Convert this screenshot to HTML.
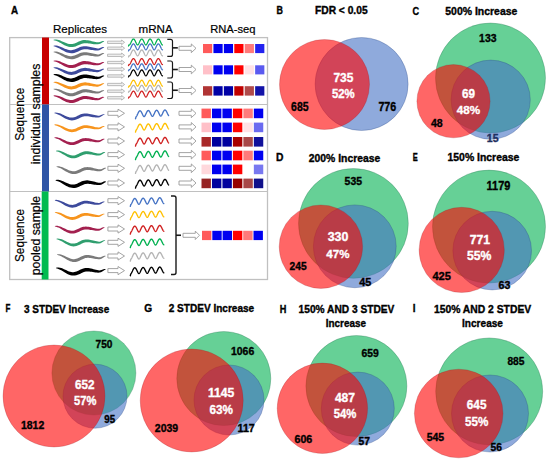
<!DOCTYPE html>
<html><head><meta charset="utf-8"><style>
html,body{margin:0;padding:0;background:#fff;width:550px;height:463px;overflow:hidden}
svg{display:block;font-family:"Liberation Sans",sans-serif}
</style></head><body>
<svg width="550" height="463" viewBox="0 0 550 463">
<rect x="9.7" y="37.6" width="257.8" height="241.9" fill="#fff" stroke="#c0c0c0" stroke-width="1.3"/>
<line x1="9.5" y1="104.5" x2="267.5" y2="104.5" stroke="#c0c0c0" stroke-width="1"/>
<line x1="9.5" y1="191.5" x2="267.5" y2="191.5" stroke="#c0c0c0" stroke-width="1"/>
<rect x="42" y="37.5" width="7" height="67" fill="#c80000"/>
<rect x="42" y="104.5" width="7" height="87" fill="#2f55a6"/>
<rect x="41.7" y="191.5" width="6.8" height="88" fill="#00bb50"/>
<text x="53.00" y="33.00" font-size="11.6" font-weight="normal" fill="#000" stroke="#000" stroke-width="0.2" textLength="53.99" lengthAdjust="spacingAndGlyphs">Replicates</text>
<text x="138.50" y="32.90" font-size="11.6" font-weight="normal" fill="#000" stroke="#000" stroke-width="0.2" textLength="34.23" lengthAdjust="spacingAndGlyphs">mRNA</text>
<text x="210.20" y="32.90" font-size="11.6" font-weight="normal" fill="#000" stroke="#000" stroke-width="0.2" textLength="45.36" lengthAdjust="spacingAndGlyphs">RNA-seq</text>
<text transform="translate(24.30,114.30) rotate(-90)" x="-26.52" y="0" font-size="12" fill="#000" stroke="#000" stroke-width="0.2" textLength="53.04" lengthAdjust="spacingAndGlyphs">Sequence</text>
<text transform="translate(40.00,113.90) rotate(-90)" x="-50.25" y="0" font-size="12" fill="#000" stroke="#000" stroke-width="0.2" textLength="100.51" lengthAdjust="spacingAndGlyphs">individual samples</text>
<text transform="translate(24.30,235.50) rotate(-90)" x="-26.52" y="0" font-size="12" fill="#000" stroke="#000" stroke-width="0.2" textLength="53.04" lengthAdjust="spacingAndGlyphs">Sequence</text>
<text transform="translate(40.00,235.60) rotate(-90)" x="-39.77" y="0" font-size="12" fill="#000" stroke="#000" stroke-width="0.2" textLength="79.55" lengthAdjust="spacingAndGlyphs">pooled sample</text>
<path d="M53.59,40.15 L54.80,40.51 L55.98,40.86 L57.14,41.30 L58.31,41.83 L59.50,42.43 L60.70,43.10 L61.91,43.79 L63.16,44.49 L64.43,45.16 L65.73,45.78 L67.07,46.31 L68.44,46.72 L69.85,47.00 L71.28,47.11 L72.74,47.04 L74.18,46.79 L75.58,46.38 L76.94,45.86 L78.24,45.29 L79.50,44.72 L80.71,44.19 L81.87,43.75 L82.99,43.42 L84.06,43.22 L85.16,43.15 L86.32,43.17 L87.51,43.26 L88.71,43.40 L89.95,43.58 L91.21,43.79 L92.49,43.99 L93.80,44.17 L95.12,44.29 L96.45,44.35 L97.82,44.33 L99.28,44.07 L100.66,43.41 L101.88,42.63 L103.00,41.97 L104.14,41.48 L104.06,40.98 L102.68,40.93 L101.27,41.38 L99.97,41.94 L98.82,42.29 L97.75,42.31 L96.60,42.18 L95.41,41.98 L94.20,41.74 L92.98,41.45 L91.74,41.14 L90.48,40.84 L89.19,40.56 L87.87,40.33 L86.53,40.16 L85.16,40.07 L83.74,40.11 L82.29,40.34 L80.88,40.73 L79.51,41.23 L78.20,41.80 L76.93,42.38 L75.71,42.93 L74.55,43.40 L73.42,43.76 L72.34,43.99 L71.27,44.09 L70.18,44.06 L69.06,43.91 L67.90,43.65 L66.72,43.27 L65.50,42.81 L64.24,42.28 L62.96,41.71 L61.65,41.14 L60.33,40.59 L58.99,40.12 L57.63,39.75 L56.27,39.50 L54.92,39.43 L53.61,39.65Z" fill="#2f9e6e"/>
<path d="M53.59,46.25 L54.80,46.61 L55.98,46.96 L57.14,47.40 L58.31,47.93 L59.50,48.53 L60.70,49.20 L61.91,49.89 L63.16,50.59 L64.43,51.26 L65.73,51.88 L67.07,52.41 L68.44,52.82 L69.85,53.10 L71.28,53.21 L72.74,53.14 L74.18,52.89 L75.58,52.48 L76.94,51.96 L78.24,51.39 L79.50,50.82 L80.71,50.29 L81.87,49.85 L82.99,49.52 L84.06,49.32 L85.16,49.25 L86.32,49.27 L87.51,49.36 L88.71,49.50 L89.95,49.68 L91.21,49.89 L92.49,50.09 L93.80,50.27 L95.12,50.39 L96.45,50.45 L97.82,50.43 L99.28,50.17 L100.66,49.51 L101.88,48.73 L103.00,48.07 L104.14,47.58 L104.06,47.08 L102.68,47.03 L101.27,47.48 L99.97,48.04 L98.82,48.39 L97.75,48.41 L96.60,48.28 L95.41,48.08 L94.20,47.84 L92.98,47.55 L91.74,47.24 L90.48,46.94 L89.19,46.66 L87.87,46.43 L86.53,46.26 L85.16,46.17 L83.74,46.21 L82.29,46.44 L80.88,46.83 L79.51,47.33 L78.20,47.90 L76.93,48.48 L75.71,49.03 L74.55,49.50 L73.42,49.86 L72.34,50.09 L71.27,50.19 L70.18,50.16 L69.06,50.01 L67.90,49.75 L66.72,49.37 L65.50,48.91 L64.24,48.38 L62.96,47.81 L61.65,47.24 L60.33,46.69 L58.99,46.22 L57.63,45.85 L56.27,45.60 L54.92,45.53 L53.61,45.75Z" fill="#3d4a9c"/>
<path d="M53.59,52.25 L54.80,52.61 L55.98,52.96 L57.14,53.40 L58.31,53.93 L59.50,54.53 L60.70,55.20 L61.91,55.89 L63.16,56.59 L64.43,57.26 L65.73,57.88 L67.07,58.41 L68.44,58.82 L69.85,59.10 L71.28,59.21 L72.74,59.14 L74.18,58.89 L75.58,58.48 L76.94,57.96 L78.24,57.39 L79.50,56.82 L80.71,56.29 L81.87,55.85 L82.99,55.52 L84.06,55.32 L85.16,55.25 L86.32,55.27 L87.51,55.36 L88.71,55.50 L89.95,55.68 L91.21,55.89 L92.49,56.09 L93.80,56.27 L95.12,56.39 L96.45,56.45 L97.82,56.43 L99.28,56.17 L100.66,55.51 L101.88,54.73 L103.00,54.07 L104.14,53.58 L104.06,53.08 L102.68,53.03 L101.27,53.48 L99.97,54.04 L98.82,54.39 L97.75,54.41 L96.60,54.28 L95.41,54.08 L94.20,53.84 L92.98,53.55 L91.74,53.24 L90.48,52.94 L89.19,52.66 L87.87,52.43 L86.53,52.26 L85.16,52.17 L83.74,52.21 L82.29,52.44 L80.88,52.83 L79.51,53.33 L78.20,53.90 L76.93,54.48 L75.71,55.03 L74.55,55.50 L73.42,55.86 L72.34,56.09 L71.27,56.19 L70.18,56.16 L69.06,56.01 L67.90,55.75 L66.72,55.37 L65.50,54.91 L64.24,54.38 L62.96,53.81 L61.65,53.24 L60.33,52.69 L58.99,52.22 L57.63,51.85 L56.27,51.60 L54.92,51.53 L53.61,51.75Z" fill="#7a7a7a"/>
<path d="M53.59,61.15 L54.80,61.51 L55.98,61.86 L57.14,62.30 L58.31,62.83 L59.50,63.43 L60.70,64.10 L61.91,64.79 L63.16,65.49 L64.43,66.16 L65.73,66.78 L67.07,67.31 L68.44,67.72 L69.85,68.00 L71.28,68.11 L72.74,68.04 L74.18,67.79 L75.58,67.38 L76.94,66.86 L78.24,66.29 L79.50,65.72 L80.71,65.19 L81.87,64.75 L82.99,64.42 L84.06,64.22 L85.16,64.15 L86.32,64.17 L87.51,64.26 L88.71,64.40 L89.95,64.58 L91.21,64.79 L92.49,64.99 L93.80,65.17 L95.12,65.29 L96.45,65.35 L97.82,65.33 L99.28,65.07 L100.66,64.41 L101.88,63.63 L103.00,62.97 L104.14,62.48 L104.06,61.98 L102.68,61.93 L101.27,62.38 L99.97,62.94 L98.82,63.29 L97.75,63.31 L96.60,63.18 L95.41,62.98 L94.20,62.74 L92.98,62.45 L91.74,62.14 L90.48,61.84 L89.19,61.56 L87.87,61.33 L86.53,61.16 L85.16,61.07 L83.74,61.11 L82.29,61.34 L80.88,61.73 L79.51,62.23 L78.20,62.80 L76.93,63.38 L75.71,63.93 L74.55,64.40 L73.42,64.76 L72.34,64.99 L71.27,65.09 L70.18,65.06 L69.06,64.91 L67.90,64.65 L66.72,64.27 L65.50,63.81 L64.24,63.28 L62.96,62.71 L61.65,62.14 L60.33,61.59 L58.99,61.12 L57.63,60.75 L56.27,60.50 L54.92,60.43 L53.61,60.65Z" fill="#a3204f"/>
<path d="M53.59,67.95 L54.80,68.31 L55.98,68.66 L57.14,69.10 L58.31,69.63 L59.50,70.23 L60.70,70.90 L61.91,71.59 L63.16,72.29 L64.43,72.96 L65.73,73.58 L67.07,74.11 L68.44,74.52 L69.85,74.80 L71.28,74.91 L72.74,74.84 L74.18,74.59 L75.58,74.18 L76.94,73.66 L78.24,73.09 L79.50,72.52 L80.71,71.99 L81.87,71.55 L82.99,71.22 L84.06,71.02 L85.16,70.95 L86.32,70.97 L87.51,71.06 L88.71,71.20 L89.95,71.38 L91.21,71.59 L92.49,71.79 L93.80,71.97 L95.12,72.09 L96.45,72.15 L97.82,72.13 L99.28,71.87 L100.66,71.21 L101.88,70.43 L103.00,69.77 L104.14,69.28 L104.06,68.78 L102.68,68.73 L101.27,69.18 L99.97,69.74 L98.82,70.09 L97.75,70.11 L96.60,69.98 L95.41,69.78 L94.20,69.54 L92.98,69.25 L91.74,68.94 L90.48,68.64 L89.19,68.36 L87.87,68.13 L86.53,67.96 L85.16,67.87 L83.74,67.91 L82.29,68.14 L80.88,68.53 L79.51,69.03 L78.20,69.60 L76.93,70.18 L75.71,70.73 L74.55,71.20 L73.42,71.56 L72.34,71.79 L71.27,71.89 L70.18,71.86 L69.06,71.71 L67.90,71.45 L66.72,71.07 L65.50,70.61 L64.24,70.08 L62.96,69.51 L61.65,68.94 L60.33,68.39 L58.99,67.92 L57.63,67.55 L56.27,67.30 L54.92,67.23 L53.61,67.45Z" fill="#3d4a9c"/>
<path d="M53.59,74.75 L54.79,75.18 L55.96,75.56 L57.11,76.02 L58.26,76.56 L59.43,77.19 L60.61,77.86 L61.82,78.57 L63.06,79.29 L64.33,79.97 L65.64,80.61 L66.99,81.15 L68.39,81.58 L69.82,81.87 L71.28,81.99 L72.77,81.92 L74.25,81.67 L75.68,81.26 L77.05,80.74 L78.37,80.17 L79.62,79.59 L80.82,79.07 L81.97,78.63 L83.05,78.30 L84.09,78.10 L85.16,78.04 L86.30,78.05 L87.47,78.13 L88.67,78.26 L89.90,78.43 L91.16,78.62 L92.45,78.82 L93.76,78.98 L95.09,79.10 L96.43,79.14 L97.83,79.10 L99.31,78.81 L100.71,78.13 L101.92,77.32 L103.02,76.63 L104.14,76.08 L104.06,75.58 L102.66,75.46 L101.23,75.89 L99.92,76.42 L98.79,76.75 L97.75,76.74 L96.62,76.59 L95.43,76.38 L94.24,76.12 L93.03,75.82 L91.79,75.51 L90.52,75.19 L89.23,74.90 L87.90,74.66 L86.55,74.48 L85.16,74.39 L83.71,74.42 L82.22,74.65 L80.78,75.04 L79.40,75.55 L78.08,76.12 L76.81,76.71 L75.60,77.25 L74.45,77.72 L73.35,78.08 L72.30,78.31 L71.27,78.41 L70.21,78.39 L69.11,78.25 L67.98,78.00 L66.81,77.65 L65.59,77.20 L64.34,76.68 L63.05,76.13 L61.74,75.57 L60.40,75.04 L59.04,74.58 L57.67,74.23 L56.29,74.01 L54.93,73.97 L53.61,74.25Z" fill="#000"/>
<path d="M53.59,82.45 L54.80,82.81 L55.98,83.16 L57.14,83.60 L58.31,84.13 L59.50,84.73 L60.70,85.40 L61.91,86.09 L63.16,86.79 L64.43,87.46 L65.73,88.08 L67.07,88.61 L68.44,89.02 L69.85,89.30 L71.28,89.41 L72.74,89.34 L74.18,89.09 L75.58,88.68 L76.94,88.16 L78.24,87.59 L79.50,87.02 L80.71,86.49 L81.87,86.05 L82.99,85.72 L84.06,85.52 L85.16,85.45 L86.32,85.47 L87.51,85.56 L88.71,85.70 L89.95,85.88 L91.21,86.09 L92.49,86.29 L93.80,86.47 L95.12,86.59 L96.45,86.65 L97.82,86.63 L99.28,86.37 L100.66,85.71 L101.88,84.93 L103.00,84.27 L104.14,83.78 L104.06,83.28 L102.68,83.23 L101.27,83.68 L99.97,84.24 L98.82,84.59 L97.75,84.61 L96.60,84.48 L95.41,84.28 L94.20,84.04 L92.98,83.75 L91.74,83.44 L90.48,83.14 L89.19,82.86 L87.87,82.63 L86.53,82.46 L85.16,82.37 L83.74,82.41 L82.29,82.64 L80.88,83.03 L79.51,83.53 L78.20,84.10 L76.93,84.68 L75.71,85.23 L74.55,85.70 L73.42,86.06 L72.34,86.29 L71.27,86.39 L70.18,86.36 L69.06,86.21 L67.90,85.95 L66.72,85.57 L65.50,85.11 L64.24,84.58 L62.96,84.01 L61.65,83.44 L60.33,82.89 L58.99,82.42 L57.63,82.05 L56.27,81.80 L54.92,81.73 L53.61,81.95Z" fill="#f7941d"/>
<path d="M53.59,89.35 L54.80,89.71 L55.98,90.06 L57.14,90.50 L58.31,91.03 L59.50,91.63 L60.70,92.30 L61.91,92.99 L63.16,93.69 L64.43,94.36 L65.73,94.98 L67.07,95.51 L68.44,95.92 L69.85,96.20 L71.28,96.31 L72.74,96.24 L74.18,95.99 L75.58,95.58 L76.94,95.06 L78.24,94.49 L79.50,93.92 L80.71,93.39 L81.87,92.95 L82.99,92.62 L84.06,92.42 L85.16,92.35 L86.32,92.37 L87.51,92.46 L88.71,92.60 L89.95,92.78 L91.21,92.99 L92.49,93.19 L93.80,93.37 L95.12,93.49 L96.45,93.55 L97.82,93.53 L99.28,93.27 L100.66,92.61 L101.88,91.83 L103.00,91.17 L104.14,90.68 L104.06,90.18 L102.68,90.13 L101.27,90.58 L99.97,91.14 L98.82,91.49 L97.75,91.51 L96.60,91.38 L95.41,91.18 L94.20,90.94 L92.98,90.65 L91.74,90.34 L90.48,90.04 L89.19,89.76 L87.87,89.53 L86.53,89.36 L85.16,89.27 L83.74,89.31 L82.29,89.54 L80.88,89.93 L79.51,90.43 L78.20,91.00 L76.93,91.58 L75.71,92.13 L74.55,92.60 L73.42,92.96 L72.34,93.19 L71.27,93.29 L70.18,93.26 L69.06,93.11 L67.90,92.85 L66.72,92.47 L65.50,92.01 L64.24,91.48 L62.96,90.91 L61.65,90.34 L60.33,89.79 L58.99,89.32 L57.63,88.95 L56.27,88.70 L54.92,88.63 L53.61,88.85Z" fill="#7a7a7a"/>
<path d="M53.59,96.05 L54.80,96.41 L55.98,96.76 L57.14,97.20 L58.31,97.73 L59.50,98.33 L60.70,99.00 L61.91,99.69 L63.16,100.39 L64.43,101.06 L65.73,101.68 L67.07,102.21 L68.44,102.62 L69.85,102.90 L71.28,103.01 L72.74,102.94 L74.18,102.69 L75.58,102.28 L76.94,101.76 L78.24,101.19 L79.50,100.62 L80.71,100.09 L81.87,99.65 L82.99,99.32 L84.06,99.12 L85.16,99.05 L86.32,99.07 L87.51,99.16 L88.71,99.30 L89.95,99.48 L91.21,99.69 L92.49,99.89 L93.80,100.07 L95.12,100.19 L96.45,100.25 L97.82,100.23 L99.28,99.97 L100.66,99.31 L101.88,98.53 L103.00,97.87 L104.14,97.38 L104.06,96.88 L102.68,96.83 L101.27,97.28 L99.97,97.84 L98.82,98.19 L97.75,98.21 L96.60,98.08 L95.41,97.88 L94.20,97.64 L92.98,97.35 L91.74,97.04 L90.48,96.74 L89.19,96.46 L87.87,96.23 L86.53,96.06 L85.16,95.97 L83.74,96.01 L82.29,96.24 L80.88,96.63 L79.51,97.13 L78.20,97.70 L76.93,98.28 L75.71,98.83 L74.55,99.30 L73.42,99.66 L72.34,99.89 L71.27,99.99 L70.18,99.96 L69.06,99.81 L67.90,99.55 L66.72,99.17 L65.50,98.71 L64.24,98.18 L62.96,97.61 L61.65,97.04 L60.33,96.49 L58.99,96.02 L57.63,95.65 L56.27,95.40 L54.92,95.33 L53.61,95.55Z" fill="#a3204f"/>
<path d="M54.39,113.25 L55.59,113.59 L56.76,113.93 L57.92,114.38 L59.08,114.92 L60.26,115.54 L61.45,116.23 L62.66,116.95 L63.89,117.68 L65.15,118.38 L66.45,119.02 L67.77,119.57 L69.13,120.00 L70.52,120.28 L71.94,120.39 L73.38,120.32 L74.81,120.05 L76.20,119.61 L77.54,119.07 L78.83,118.47 L80.08,117.87 L81.28,117.31 L82.44,116.84 L83.55,116.50 L84.62,116.29 L85.71,116.22 L86.86,116.25 L88.04,116.34 L89.24,116.50 L90.46,116.70 L91.71,116.92 L92.99,117.14 L94.28,117.33 L95.59,117.48 L96.91,117.55 L98.27,117.54 L99.71,117.28 L101.08,116.60 L102.29,115.80 L103.41,115.12 L104.54,114.65 L104.46,114.15 L103.09,114.14 L101.70,114.64 L100.41,115.24 L99.27,115.63 L98.20,115.66 L97.06,115.53 L95.87,115.34 L94.68,115.09 L93.47,114.80 L92.24,114.48 L90.98,114.17 L89.70,113.88 L88.40,113.64 L87.07,113.47 L85.71,113.38 L84.30,113.43 L82.87,113.67 L81.47,114.08 L80.12,114.60 L78.82,115.20 L77.56,115.81 L76.35,116.39 L75.19,116.88 L74.07,117.26 L72.99,117.51 L71.93,117.61 L70.84,117.57 L69.73,117.41 L68.58,117.12 L67.40,116.72 L66.19,116.22 L64.95,115.66 L63.68,115.05 L62.38,114.43 L61.07,113.85 L59.74,113.34 L58.40,112.93 L57.05,112.66 L55.71,112.56 L54.41,112.75Z" fill="#3d4a9c"/>
<path d="M54.39,125.05 L55.59,125.39 L56.76,125.73 L57.92,126.18 L59.08,126.72 L60.26,127.34 L61.45,128.03 L62.66,128.75 L63.89,129.48 L65.15,130.18 L66.45,130.82 L67.77,131.37 L69.13,131.80 L70.52,132.08 L71.94,132.19 L73.38,132.12 L74.81,131.85 L76.20,131.41 L77.54,130.87 L78.83,130.27 L80.08,129.67 L81.28,129.11 L82.44,128.64 L83.55,128.30 L84.62,128.09 L85.71,128.02 L86.86,128.05 L88.04,128.14 L89.24,128.30 L90.46,128.50 L91.71,128.72 L92.99,128.94 L94.28,129.13 L95.59,129.28 L96.91,129.35 L98.27,129.34 L99.71,129.08 L101.08,128.40 L102.29,127.60 L103.41,126.92 L104.54,126.45 L104.46,125.95 L103.09,125.94 L101.70,126.44 L100.41,127.04 L99.27,127.43 L98.20,127.46 L97.06,127.33 L95.87,127.14 L94.68,126.89 L93.47,126.60 L92.24,126.28 L90.98,125.97 L89.70,125.68 L88.40,125.44 L87.07,125.27 L85.71,125.18 L84.30,125.23 L82.87,125.47 L81.47,125.88 L80.12,126.40 L78.82,127.00 L77.56,127.61 L76.35,128.19 L75.19,128.68 L74.07,129.06 L72.99,129.31 L71.93,129.41 L70.84,129.37 L69.73,129.21 L68.58,128.92 L67.40,128.52 L66.19,128.02 L64.95,127.46 L63.68,126.85 L62.38,126.23 L61.07,125.65 L59.74,125.14 L58.40,124.73 L57.05,124.46 L55.71,124.36 L54.41,124.55Z" fill="#f7941d"/>
<path d="M54.39,137.95 L55.59,138.29 L56.76,138.63 L57.92,139.08 L59.08,139.62 L60.26,140.24 L61.45,140.93 L62.66,141.65 L63.89,142.38 L65.15,143.08 L66.45,143.72 L67.77,144.27 L69.13,144.70 L70.52,144.98 L71.94,145.09 L73.38,145.02 L74.81,144.75 L76.20,144.31 L77.54,143.77 L78.83,143.17 L80.08,142.57 L81.28,142.01 L82.44,141.54 L83.55,141.20 L84.62,140.99 L85.71,140.92 L86.86,140.95 L88.04,141.04 L89.24,141.20 L90.46,141.40 L91.71,141.62 L92.99,141.84 L94.28,142.03 L95.59,142.18 L96.91,142.25 L98.27,142.24 L99.71,141.98 L101.08,141.30 L102.29,140.50 L103.41,139.82 L104.54,139.35 L104.46,138.85 L103.09,138.84 L101.70,139.34 L100.41,139.94 L99.27,140.33 L98.20,140.36 L97.06,140.23 L95.87,140.04 L94.68,139.79 L93.47,139.50 L92.24,139.18 L90.98,138.87 L89.70,138.58 L88.40,138.34 L87.07,138.17 L85.71,138.08 L84.30,138.13 L82.87,138.37 L81.47,138.78 L80.12,139.30 L78.82,139.90 L77.56,140.51 L76.35,141.09 L75.19,141.58 L74.07,141.96 L72.99,142.21 L71.93,142.31 L70.84,142.27 L69.73,142.11 L68.58,141.82 L67.40,141.42 L66.19,140.92 L64.95,140.36 L63.68,139.75 L62.38,139.13 L61.07,138.55 L59.74,138.04 L58.40,137.63 L57.05,137.36 L55.71,137.26 L54.41,137.45Z" fill="#a3204f"/>
<path d="M55.98,151.15 L57.17,151.49 L58.31,151.83 L59.44,152.28 L60.58,152.82 L61.72,153.44 L62.89,154.13 L64.08,154.85 L65.29,155.58 L66.52,156.28 L67.79,156.92 L69.09,157.47 L70.42,157.90 L71.79,158.18 L73.19,158.29 L74.61,158.22 L76.01,157.94 L77.38,157.51 L78.70,156.97 L79.97,156.37 L81.19,155.76 L82.37,155.21 L83.50,154.74 L84.58,154.39 L85.62,154.19 L86.69,154.12 L87.81,154.15 L88.96,154.24 L90.14,154.40 L91.33,154.59 L92.56,154.82 L93.81,155.04 L95.08,155.23 L96.36,155.38 L97.66,155.45 L99.00,155.44 L100.42,155.18 L101.76,154.50 L102.95,153.69 L104.04,153.02 L105.15,152.55 L105.05,152.05 L103.71,152.04 L102.34,152.54 L101.07,153.14 L99.96,153.53 L98.93,153.56 L97.81,153.43 L96.65,153.24 L95.48,152.99 L94.30,152.70 L93.09,152.38 L91.86,152.07 L90.60,151.78 L89.32,151.54 L88.02,151.37 L86.69,151.28 L85.30,151.33 L83.89,151.57 L82.51,151.98 L81.19,152.51 L79.91,153.11 L78.68,153.72 L77.49,154.30 L76.36,154.79 L75.27,155.17 L74.21,155.41 L73.18,155.51 L72.12,155.47 L71.04,155.31 L69.92,155.02 L68.76,154.62 L67.57,154.13 L66.35,153.56 L65.11,152.95 L63.84,152.34 L62.55,151.76 L61.24,151.24 L59.93,150.83 L58.60,150.56 L57.29,150.46 L56.02,150.65Z" fill="#2f9e6e"/>
<path d="M56.48,166.95 L57.68,167.29 L58.83,167.63 L59.97,168.08 L61.12,168.62 L62.28,169.24 L63.45,169.93 L64.65,170.65 L65.87,171.38 L67.11,172.08 L68.39,172.72 L69.70,173.27 L71.05,173.70 L72.43,173.98 L73.83,174.09 L75.26,174.02 L76.67,173.74 L78.05,173.31 L79.37,172.77 L80.65,172.17 L81.89,171.57 L83.07,171.01 L84.21,170.54 L85.31,170.19 L86.36,169.99 L87.44,169.92 L88.57,169.95 L89.73,170.04 L90.92,170.20 L92.13,170.39 L93.36,170.62 L94.62,170.84 L95.90,171.03 L97.19,171.18 L98.50,171.25 L99.85,171.24 L101.28,170.98 L102.63,170.30 L103.83,169.49 L104.92,168.82 L106.05,168.35 L105.95,167.85 L104.60,167.84 L103.22,168.34 L101.95,168.94 L100.82,169.33 L99.78,169.36 L98.65,169.23 L97.48,169.04 L96.30,168.79 L95.10,168.50 L93.89,168.18 L92.65,167.87 L91.38,167.58 L90.09,167.34 L88.78,167.17 L87.44,167.08 L86.04,167.13 L84.62,167.37 L83.24,167.78 L81.90,168.31 L80.61,168.91 L79.37,169.52 L78.18,170.09 L77.03,170.59 L75.93,170.96 L74.87,171.21 L73.82,171.31 L72.75,171.27 L71.65,171.11 L70.52,170.82 L69.36,170.42 L68.16,169.93 L66.93,169.36 L65.68,168.75 L64.40,168.14 L63.10,167.55 L61.78,167.04 L60.46,166.63 L59.12,166.36 L57.80,166.26 L56.52,166.45Z" fill="#7a7a7a"/>
<path d="M55.59,180.55 L56.79,180.96 L57.95,181.34 L59.10,181.81 L60.25,182.37 L61.42,183.01 L62.60,183.71 L63.81,184.45 L65.05,185.19 L66.32,185.91 L67.62,186.56 L68.97,187.13 L70.36,187.58 L71.79,187.87 L73.25,188.00 L74.73,187.92 L76.21,187.65 L77.63,187.22 L79.00,186.67 L80.31,186.07 L81.57,185.46 L82.77,184.91 L83.91,184.45 L84.99,184.11 L86.03,183.90 L87.10,183.83 L88.23,183.85 L89.40,183.94 L90.60,184.08 L91.83,184.27 L93.09,184.48 L94.37,184.69 L95.68,184.87 L97.01,185.00 L98.35,185.05 L99.74,185.02 L101.22,184.73 L102.62,184.03 L103.83,183.19 L104.92,182.49 L106.04,181.95 L105.96,181.45 L104.56,181.37 L103.13,181.84 L101.82,182.42 L100.70,182.77 L99.66,182.78 L98.53,182.63 L97.35,182.42 L96.16,182.16 L94.95,181.85 L93.71,181.52 L92.45,181.20 L91.16,180.90 L89.84,180.65 L88.49,180.47 L87.10,180.37 L85.65,180.41 L84.17,180.66 L82.73,181.07 L81.35,181.60 L80.03,182.21 L78.77,182.82 L77.56,183.39 L76.41,183.88 L75.31,184.26 L74.27,184.50 L73.23,184.60 L72.17,184.58 L71.08,184.43 L69.95,184.16 L68.78,183.78 L67.56,183.30 L66.31,182.74 L65.03,182.15 L63.72,181.55 L62.38,180.99 L61.03,180.49 L59.66,180.10 L58.29,179.86 L56.93,179.79 L55.61,180.05Z" fill="#000"/>
<path d="M54.88,200.55 L56.08,200.89 L57.23,201.23 L58.38,201.68 L59.53,202.22 L60.69,202.84 L61.87,203.53 L63.07,204.25 L64.29,204.98 L65.54,205.68 L66.82,206.32 L68.13,206.87 L69.48,207.30 L70.86,207.58 L72.27,207.69 L73.70,207.62 L75.11,207.34 L76.49,206.91 L77.82,206.37 L79.10,205.77 L80.34,205.17 L81.53,204.61 L82.67,204.14 L83.76,203.79 L84.82,203.59 L85.90,203.52 L87.03,203.55 L88.20,203.64 L89.39,203.80 L90.60,204.00 L91.84,204.22 L93.10,204.44 L94.38,204.63 L95.68,204.78 L96.98,204.85 L98.33,204.84 L99.77,204.58 L101.12,203.90 L102.32,203.09 L103.42,202.42 L104.55,201.95 L104.45,201.45 L103.10,201.44 L101.72,201.94 L100.44,202.54 L99.31,202.93 L98.27,202.96 L97.14,202.83 L95.96,202.64 L94.78,202.39 L93.58,202.10 L92.36,201.78 L91.12,201.47 L89.85,201.18 L88.56,200.94 L87.25,200.77 L85.90,200.68 L84.50,200.73 L83.08,200.97 L81.69,201.38 L80.35,201.91 L79.06,202.50 L77.82,203.12 L76.62,203.69 L75.47,204.19 L74.37,204.56 L73.30,204.81 L72.25,204.91 L71.18,204.87 L70.08,204.71 L68.95,204.42 L67.78,204.02 L66.58,203.53 L65.35,202.96 L64.09,202.35 L62.81,201.74 L61.51,201.15 L60.19,200.64 L58.86,200.23 L57.53,199.96 L56.20,199.86 L54.92,200.05Z" fill="#3d4a9c"/>
<path d="M54.88,212.75 L56.08,213.09 L57.23,213.43 L58.38,213.88 L59.53,214.42 L60.69,215.04 L61.87,215.73 L63.07,216.45 L64.29,217.18 L65.54,217.88 L66.82,218.52 L68.13,219.07 L69.48,219.50 L70.86,219.78 L72.27,219.89 L73.70,219.82 L75.11,219.54 L76.49,219.11 L77.82,218.57 L79.10,217.97 L80.34,217.37 L81.53,216.81 L82.67,216.34 L83.76,215.99 L84.82,215.79 L85.90,215.72 L87.03,215.75 L88.20,215.84 L89.39,216.00 L90.60,216.20 L91.84,216.42 L93.10,216.64 L94.38,216.83 L95.68,216.98 L96.98,217.05 L98.33,217.04 L99.77,216.78 L101.12,216.10 L102.32,215.29 L103.42,214.62 L104.55,214.15 L104.45,213.65 L103.10,213.64 L101.72,214.14 L100.44,214.74 L99.31,215.13 L98.27,215.16 L97.14,215.03 L95.96,214.84 L94.78,214.59 L93.58,214.30 L92.36,213.98 L91.12,213.67 L89.85,213.38 L88.56,213.14 L87.25,212.97 L85.90,212.88 L84.50,212.93 L83.08,213.17 L81.69,213.58 L80.35,214.11 L79.06,214.70 L77.82,215.32 L76.62,215.89 L75.47,216.39 L74.37,216.76 L73.30,217.01 L72.25,217.11 L71.18,217.07 L70.08,216.91 L68.95,216.62 L67.78,216.22 L66.58,215.73 L65.35,215.16 L64.09,214.55 L62.81,213.94 L61.51,213.35 L60.19,212.84 L58.86,212.43 L57.53,212.16 L56.20,212.06 L54.92,212.25Z" fill="#f7941d"/>
<path d="M54.88,226.45 L56.08,226.79 L57.23,227.13 L58.38,227.58 L59.53,228.12 L60.69,228.74 L61.87,229.43 L63.07,230.15 L64.29,230.88 L65.54,231.58 L66.82,232.22 L68.13,232.77 L69.48,233.20 L70.86,233.48 L72.27,233.59 L73.70,233.52 L75.11,233.24 L76.49,232.81 L77.82,232.27 L79.10,231.67 L80.34,231.07 L81.53,230.51 L82.67,230.04 L83.76,229.69 L84.82,229.49 L85.90,229.42 L87.03,229.45 L88.20,229.54 L89.39,229.70 L90.60,229.90 L91.84,230.12 L93.10,230.34 L94.38,230.53 L95.68,230.68 L96.98,230.75 L98.33,230.74 L99.77,230.48 L101.12,229.80 L102.32,228.99 L103.42,228.32 L104.55,227.85 L104.45,227.35 L103.10,227.34 L101.72,227.84 L100.44,228.44 L99.31,228.83 L98.27,228.86 L97.14,228.73 L95.96,228.54 L94.78,228.29 L93.58,228.00 L92.36,227.68 L91.12,227.37 L89.85,227.08 L88.56,226.84 L87.25,226.67 L85.90,226.58 L84.50,226.63 L83.08,226.87 L81.69,227.28 L80.35,227.81 L79.06,228.40 L77.82,229.02 L76.62,229.59 L75.47,230.09 L74.37,230.46 L73.30,230.71 L72.25,230.81 L71.18,230.77 L70.08,230.61 L68.95,230.32 L67.78,229.92 L66.58,229.43 L65.35,228.86 L64.09,228.25 L62.81,227.64 L61.51,227.05 L60.19,226.54 L58.86,226.13 L57.53,225.86 L56.20,225.76 L54.92,225.95Z" fill="#a3204f"/>
<path d="M56.48,239.25 L57.65,239.59 L58.78,239.93 L59.90,240.38 L61.02,240.92 L62.16,241.54 L63.31,242.23 L64.49,242.95 L65.68,243.67 L66.90,244.37 L68.16,245.01 L69.45,245.57 L70.77,246.00 L72.13,246.28 L73.52,246.39 L74.92,246.32 L76.32,246.04 L77.67,245.61 L78.98,245.07 L80.24,244.47 L81.45,243.86 L82.61,243.30 L83.73,242.84 L84.79,242.49 L85.82,242.29 L86.87,242.22 L87.98,242.25 L89.12,242.34 L90.28,242.50 L91.47,242.69 L92.68,242.92 L93.92,243.14 L95.18,243.33 L96.45,243.48 L97.73,243.55 L99.06,243.54 L100.47,243.28 L101.80,242.60 L102.98,241.79 L104.05,241.12 L105.15,240.65 L105.05,240.15 L103.72,240.14 L102.36,240.64 L101.11,241.24 L100.01,241.63 L98.99,241.66 L97.89,241.53 L96.74,241.34 L95.58,241.09 L94.41,240.80 L93.22,240.48 L92.00,240.17 L90.76,239.88 L89.49,239.64 L88.20,239.47 L86.88,239.38 L85.50,239.43 L84.10,239.67 L82.73,240.08 L81.42,240.61 L80.15,241.21 L78.93,241.82 L77.76,242.40 L76.64,242.89 L75.56,243.27 L74.53,243.51 L73.50,243.61 L72.46,243.57 L71.39,243.41 L70.28,243.13 L69.14,242.73 L67.97,242.23 L66.76,241.66 L65.52,241.05 L64.27,240.44 L62.99,239.86 L61.70,239.34 L60.39,238.93 L59.08,238.66 L57.78,238.56 L56.52,238.75Z" fill="#2f9e6e"/>
<path d="M57.08,254.85 L58.25,255.19 L59.37,255.53 L60.49,255.97 L61.61,256.52 L62.75,257.14 L63.90,257.82 L65.07,258.55 L66.26,259.27 L67.48,259.97 L68.73,260.61 L70.02,261.16 L71.34,261.60 L72.70,261.88 L74.08,261.99 L75.49,261.92 L76.88,261.64 L78.23,261.21 L79.53,260.67 L80.79,260.06 L82.00,259.46 L83.16,258.90 L84.27,258.44 L85.34,258.09 L86.36,257.89 L87.41,257.82 L88.52,257.85 L89.65,257.94 L90.81,258.10 L92.00,258.29 L93.21,258.52 L94.44,258.74 L95.70,258.93 L96.97,259.08 L98.25,259.15 L99.57,259.14 L100.98,258.88 L102.31,258.20 L103.48,257.39 L104.55,256.72 L105.65,256.25 L105.55,255.75 L104.22,255.74 L102.87,256.24 L101.62,256.84 L100.52,257.23 L99.50,257.26 L98.40,257.13 L97.26,256.94 L96.10,256.69 L94.93,256.40 L93.74,256.08 L92.53,255.77 L91.29,255.48 L90.02,255.24 L88.73,255.07 L87.41,254.98 L86.04,255.03 L84.64,255.27 L83.28,255.68 L81.96,256.21 L80.70,256.81 L79.49,257.42 L78.32,258.00 L77.20,258.49 L76.12,258.87 L75.09,259.11 L74.07,259.21 L73.03,259.17 L71.96,259.01 L70.86,258.73 L69.72,258.33 L68.54,257.83 L67.34,257.26 L66.11,256.65 L64.85,256.04 L63.58,255.46 L62.29,254.94 L60.98,254.53 L59.68,254.26 L58.38,254.16 L57.12,254.35Z" fill="#7a7a7a"/>
<path d="M55.98,268.15 L57.17,268.56 L58.31,268.94 L59.43,269.41 L60.57,269.97 L61.71,270.61 L62.88,271.31 L64.06,272.04 L65.28,272.79 L66.53,273.50 L67.81,274.16 L69.14,274.73 L70.51,275.18 L71.92,275.47 L73.37,275.60 L74.84,275.52 L76.29,275.25 L77.70,274.81 L79.05,274.27 L80.34,273.66 L81.58,273.06 L82.76,272.51 L83.88,272.05 L84.94,271.71 L85.96,271.50 L87.00,271.43 L88.11,271.45 L89.26,271.54 L90.44,271.68 L91.64,271.87 L92.88,272.07 L94.15,272.28 L95.44,272.47 L96.75,272.60 L98.07,272.65 L99.44,272.62 L100.91,272.33 L102.28,271.62 L103.47,270.79 L104.54,270.08 L105.65,269.55 L105.55,269.05 L104.18,268.97 L102.77,269.44 L101.48,270.02 L100.37,270.37 L99.36,270.38 L98.25,270.23 L97.09,270.02 L95.92,269.76 L94.73,269.45 L93.52,269.13 L92.28,268.80 L91.00,268.50 L89.70,268.25 L88.37,268.07 L87.00,267.97 L85.56,268.01 L84.10,268.26 L82.68,268.67 L81.32,269.21 L80.02,269.81 L78.78,270.43 L77.59,271.00 L76.46,271.49 L75.39,271.86 L74.36,272.10 L73.35,272.20 L72.32,272.18 L71.25,272.03 L70.14,271.76 L68.99,271.38 L67.79,270.90 L66.56,270.35 L65.30,269.76 L64.00,269.16 L62.69,268.59 L61.35,268.09 L60.01,267.70 L58.65,267.46 L57.31,267.39 L56.02,267.65Z" fill="#000"/>
<path d="M107.6,41.15 L121.6,41.15 L121.6,40.0 L124.6,42.3 L121.6,44.599999999999994 L121.6,43.449999999999996 L107.6,43.449999999999996 Z" fill="#f2f2f2" stroke="#a4a4a4" stroke-width="0.75" stroke-linejoin="miter"/>
<path d="M107.6,47.050000000000004 L121.6,47.050000000000004 L121.6,45.900000000000006 L124.6,48.2 L121.6,50.5 L121.6,49.35 L107.6,49.35 Z" fill="#f2f2f2" stroke="#a4a4a4" stroke-width="0.75" stroke-linejoin="miter"/>
<path d="M107.6,54.15 L121.6,54.15 L121.6,53.0 L124.6,55.3 L121.6,57.599999999999994 L121.6,56.449999999999996 L107.6,56.449999999999996 Z" fill="#f2f2f2" stroke="#a4a4a4" stroke-width="0.75" stroke-linejoin="miter"/>
<path d="M107.6,61.35 L121.6,61.35 L121.6,60.2 L124.6,62.5 L121.6,64.8 L121.6,63.65 L107.6,63.65 Z" fill="#f2f2f2" stroke="#a4a4a4" stroke-width="0.75" stroke-linejoin="miter"/>
<path d="M107.6,68.05 L121.6,68.05 L121.6,66.9 L124.6,69.2 L121.6,71.5 L121.6,70.35000000000001 L107.6,70.35000000000001 Z" fill="#f2f2f2" stroke="#a4a4a4" stroke-width="0.75" stroke-linejoin="miter"/>
<path d="M107.6,74.85 L121.6,74.85 L121.6,73.7 L124.6,76.0 L121.6,78.3 L121.6,77.15 L107.6,77.15 Z" fill="#f2f2f2" stroke="#a4a4a4" stroke-width="0.75" stroke-linejoin="miter"/>
<path d="M107.6,83.35 L121.6,83.35 L121.6,82.2 L124.6,84.5 L121.6,86.8 L121.6,85.65 L107.6,85.65 Z" fill="#f2f2f2" stroke="#a4a4a4" stroke-width="0.75" stroke-linejoin="miter"/>
<path d="M107.6,90.05 L121.6,90.05 L121.6,88.9 L124.6,91.2 L121.6,93.5 L121.6,92.35000000000001 L107.6,92.35000000000001 Z" fill="#f2f2f2" stroke="#a4a4a4" stroke-width="0.75" stroke-linejoin="miter"/>
<path d="M107.6,96.64999999999999 L121.6,96.64999999999999 L121.6,95.5 L124.6,97.8 L121.6,100.1 L121.6,98.95 L107.6,98.95 Z" fill="#f2f2f2" stroke="#a4a4a4" stroke-width="0.75" stroke-linejoin="miter"/>
<path d="M107.9,111.3 L118.0,111.3 L118.0,109.2 L124.5,113.3 L118.0,117.39999999999999 L118.0,115.3 L107.9,115.3 Z" fill="#fff" stroke="#9a9a9a" stroke-width="0.9" stroke-linejoin="miter"/>
<path d="M107.9,124.9 L118.0,124.9 L118.0,122.80000000000001 L124.5,126.9 L118.0,131.0 L118.0,128.9 L107.9,128.9 Z" fill="#fff" stroke="#9a9a9a" stroke-width="0.9" stroke-linejoin="miter"/>
<path d="M107.9,139.0 L118.0,139.0 L118.0,136.9 L124.5,141.0 L118.0,145.1 L118.0,143.0 L107.9,143.0 Z" fill="#fff" stroke="#9a9a9a" stroke-width="0.9" stroke-linejoin="miter"/>
<path d="M107.9,152.6 L118.0,152.6 L118.0,150.5 L124.5,154.6 L118.0,158.7 L118.0,156.6 L107.9,156.6 Z" fill="#fff" stroke="#9a9a9a" stroke-width="0.9" stroke-linejoin="miter"/>
<path d="M107.9,166.3 L118.0,166.3 L118.0,164.20000000000002 L124.5,168.3 L118.0,172.4 L118.0,170.3 L107.9,170.3 Z" fill="#fff" stroke="#9a9a9a" stroke-width="0.9" stroke-linejoin="miter"/>
<path d="M107.9,181.0 L118.0,181.0 L118.0,178.9 L124.5,183.0 L118.0,187.1 L118.0,185.0 L107.9,185.0 Z" fill="#fff" stroke="#9a9a9a" stroke-width="0.9" stroke-linejoin="miter"/>
<path d="M107.9,198.7 L118.0,198.7 L118.0,196.6 L124.5,200.7 L118.0,204.79999999999998 L118.0,202.7 L107.9,202.7 Z" fill="#fff" stroke="#9a9a9a" stroke-width="0.9" stroke-linejoin="miter"/>
<path d="M107.9,212.6 L118.0,212.6 L118.0,210.5 L124.5,214.6 L118.0,218.7 L118.0,216.6 L107.9,216.6 Z" fill="#fff" stroke="#9a9a9a" stroke-width="0.9" stroke-linejoin="miter"/>
<path d="M107.9,227.0 L118.0,227.0 L118.0,224.9 L124.5,229.0 L118.0,233.1 L118.0,231.0 L107.9,231.0 Z" fill="#fff" stroke="#9a9a9a" stroke-width="0.9" stroke-linejoin="miter"/>
<path d="M107.9,240.3 L118.0,240.3 L118.0,238.20000000000002 L124.5,242.3 L118.0,246.4 L118.0,244.3 L107.9,244.3 Z" fill="#fff" stroke="#9a9a9a" stroke-width="0.9" stroke-linejoin="miter"/>
<path d="M107.9,254.0 L118.0,254.0 L118.0,251.9 L124.5,256.0 L118.0,260.1 L118.0,258.0 L107.9,258.0 Z" fill="#fff" stroke="#9a9a9a" stroke-width="0.9" stroke-linejoin="miter"/>
<path d="M107.9,268.6 L118.0,268.6 L118.0,266.5 L124.5,270.6 L118.0,274.70000000000005 L118.0,272.6 L107.9,272.6 Z" fill="#fff" stroke="#9a9a9a" stroke-width="0.9" stroke-linejoin="miter"/>
<path d="M128.50,46.00 L129.01,44.86 L129.22,44.98 L129.43,44.96 L129.64,44.81 L129.85,44.58 L130.06,44.29 L130.27,43.94 L130.49,43.55 L130.70,43.13 L130.91,42.68 L131.12,42.23 L131.33,41.77 L131.54,41.33 L131.75,40.90 L131.96,40.49 L132.17,40.13 L132.38,39.80 L132.59,39.52 L132.80,39.30 L133.01,39.14 L133.22,39.04 L133.43,39.00 L133.64,39.03 L133.86,39.12 L134.07,39.27 L134.28,39.49 L134.49,39.75 L134.70,40.07 L134.91,40.43 L135.12,40.83 L135.33,41.26 L135.54,41.70 L135.75,42.16 L135.96,42.61 L136.17,43.06 L136.38,43.49 L136.59,43.88 L136.80,44.24 L137.01,44.54 L137.23,44.78 L137.44,44.95 L137.65,44.99 L137.86,44.89 L138.07,44.69 L138.28,44.42 L138.49,44.09 L138.70,43.71 L138.91,43.30 L139.12,42.87 L139.33,42.41 L139.54,41.96 L139.75,41.51 L139.96,41.07 L140.17,40.65 L140.38,40.27 L140.59,39.93 L140.81,39.63 L141.02,39.39 L141.23,39.20 L141.44,39.07 L141.65,39.01 L141.86,39.01 L142.07,39.07 L142.28,39.20 L142.49,39.39 L142.70,39.64 L142.91,39.94 L143.12,40.28 L143.33,40.67 L143.54,41.08 L143.75,41.52 L143.97,41.97 L144.18,42.43 L144.39,42.88 L144.60,43.32 L144.81,43.73 L145.02,44.10 L145.23,44.43 L145.44,44.69 L145.65,44.89 L145.86,45.00 L146.07,44.94 L146.28,44.78 L146.49,44.53 L146.70,44.23 L146.91,43.87 L147.12,43.47 L147.34,43.05 L147.55,42.60 L147.76,42.14 L147.97,41.69 L148.18,41.24 L148.39,40.82 L148.60,40.42 L148.81,40.06 L149.02,39.75 L149.23,39.48 L149.44,39.27 L149.65,39.12 L149.86,39.03 L150.07,39.00 L150.28,39.04 L150.49,39.14 L150.71,39.31 L150.92,39.53 L151.13,39.81 L151.34,40.14 L151.55,40.51 L151.76,40.91 L151.97,41.34 L152.18,41.79 L152.39,42.24 L152.60,42.70 L152.81,43.14 L153.02,43.56 L153.23,43.95 L153.44,44.30 L153.65,44.59 L153.86,44.82 L154.07,44.97 L154.29,44.98 L154.50,44.86 L154.71,44.64 L154.92,44.36 L155.13,44.02 L155.34,43.64 L155.55,43.22 L155.76,42.78 L155.97,42.33 L156.18,41.87 L156.39,41.42 L156.60,40.99 L156.81,40.58 L157.02,40.20 L157.23,39.87 L157.44,39.58 L157.66,39.35 L157.87,39.17 L158.08,39.05 L158.29,39.00 L158.50,39.02 L158.71,39.09 L158.92,39.23 L159.13,39.43 L159.34,39.69 L159.55,40.00 L159.76,40.35 L159.97,40.74 L160.18,41.16 L160.39,41.60 L160.60,42.06 L160.81,42.51 L161.03,42.96 L161.24,43.40 L161.45,43.80 L161.66,44.16 L161.87,44.48 L162.08,44.74 L162.29,44.92 L162.50,45.00" fill="none" stroke="#00b050" stroke-width="1.25" stroke-linecap="round" stroke-linejoin="round"/>
<path d="M128.50,50.90 L129.01,49.76 L129.22,49.88 L129.43,49.86 L129.64,49.71 L129.85,49.48 L130.06,49.19 L130.27,48.84 L130.49,48.45 L130.70,48.03 L130.91,47.58 L131.12,47.13 L131.33,46.67 L131.54,46.23 L131.75,45.80 L131.96,45.39 L132.17,45.03 L132.38,44.70 L132.59,44.42 L132.80,44.20 L133.01,44.04 L133.22,43.94 L133.43,43.90 L133.64,43.93 L133.86,44.02 L134.07,44.17 L134.28,44.39 L134.49,44.65 L134.70,44.97 L134.91,45.33 L135.12,45.73 L135.33,46.16 L135.54,46.60 L135.75,47.06 L135.96,47.51 L136.17,47.96 L136.38,48.39 L136.59,48.78 L136.80,49.14 L137.01,49.44 L137.23,49.68 L137.44,49.85 L137.65,49.89 L137.86,49.79 L138.07,49.59 L138.28,49.32 L138.49,48.99 L138.70,48.61 L138.91,48.20 L139.12,47.77 L139.33,47.31 L139.54,46.86 L139.75,46.41 L139.96,45.97 L140.17,45.55 L140.38,45.17 L140.59,44.83 L140.81,44.53 L141.02,44.29 L141.23,44.10 L141.44,43.97 L141.65,43.91 L141.86,43.91 L142.07,43.97 L142.28,44.10 L142.49,44.29 L142.70,44.54 L142.91,44.84 L143.12,45.18 L143.33,45.57 L143.54,45.98 L143.75,46.42 L143.97,46.87 L144.18,47.33 L144.39,47.78 L144.60,48.22 L144.81,48.63 L145.02,49.00 L145.23,49.33 L145.44,49.59 L145.65,49.79 L145.86,49.90 L146.07,49.84 L146.28,49.68 L146.49,49.43 L146.70,49.13 L146.91,48.77 L147.12,48.37 L147.34,47.95 L147.55,47.50 L147.76,47.04 L147.97,46.59 L148.18,46.14 L148.39,45.72 L148.60,45.32 L148.81,44.96 L149.02,44.65 L149.23,44.38 L149.44,44.17 L149.65,44.02 L149.86,43.93 L150.07,43.90 L150.28,43.94 L150.49,44.04 L150.71,44.21 L150.92,44.43 L151.13,44.71 L151.34,45.04 L151.55,45.41 L151.76,45.81 L151.97,46.24 L152.18,46.69 L152.39,47.14 L152.60,47.60 L152.81,48.04 L153.02,48.46 L153.23,48.85 L153.44,49.20 L153.65,49.49 L153.86,49.72 L154.07,49.87 L154.29,49.88 L154.50,49.76 L154.71,49.54 L154.92,49.26 L155.13,48.92 L155.34,48.54 L155.55,48.12 L155.76,47.68 L155.97,47.23 L156.18,46.77 L156.39,46.32 L156.60,45.89 L156.81,45.48 L157.02,45.10 L157.23,44.77 L157.44,44.48 L157.66,44.25 L157.87,44.07 L158.08,43.95 L158.29,43.90 L158.50,43.92 L158.71,43.99 L158.92,44.13 L159.13,44.33 L159.34,44.59 L159.55,44.90 L159.76,45.25 L159.97,45.64 L160.18,46.06 L160.39,46.50 L160.60,46.96 L160.81,47.41 L161.03,47.86 L161.24,48.30 L161.45,48.70 L161.66,49.06 L161.87,49.38 L162.08,49.64 L162.29,49.82 L162.50,49.90" fill="none" stroke="#4472c4" stroke-width="1.25" stroke-linecap="round" stroke-linejoin="round"/>
<path d="M128.50,56.90 L129.01,55.76 L129.22,55.88 L129.43,55.86 L129.64,55.71 L129.85,55.48 L130.06,55.19 L130.27,54.84 L130.49,54.45 L130.70,54.03 L130.91,53.58 L131.12,53.13 L131.33,52.67 L131.54,52.23 L131.75,51.80 L131.96,51.39 L132.17,51.03 L132.38,50.70 L132.59,50.42 L132.80,50.20 L133.01,50.04 L133.22,49.94 L133.43,49.90 L133.64,49.93 L133.86,50.02 L134.07,50.17 L134.28,50.39 L134.49,50.65 L134.70,50.97 L134.91,51.33 L135.12,51.73 L135.33,52.16 L135.54,52.60 L135.75,53.06 L135.96,53.51 L136.17,53.96 L136.38,54.39 L136.59,54.78 L136.80,55.14 L137.01,55.44 L137.23,55.68 L137.44,55.85 L137.65,55.89 L137.86,55.79 L138.07,55.59 L138.28,55.32 L138.49,54.99 L138.70,54.61 L138.91,54.20 L139.12,53.77 L139.33,53.31 L139.54,52.86 L139.75,52.41 L139.96,51.97 L140.17,51.55 L140.38,51.17 L140.59,50.83 L140.81,50.53 L141.02,50.29 L141.23,50.10 L141.44,49.97 L141.65,49.91 L141.86,49.91 L142.07,49.97 L142.28,50.10 L142.49,50.29 L142.70,50.54 L142.91,50.84 L143.12,51.18 L143.33,51.57 L143.54,51.98 L143.75,52.42 L143.97,52.87 L144.18,53.33 L144.39,53.78 L144.60,54.22 L144.81,54.63 L145.02,55.00 L145.23,55.33 L145.44,55.59 L145.65,55.79 L145.86,55.90 L146.07,55.84 L146.28,55.68 L146.49,55.43 L146.70,55.13 L146.91,54.77 L147.12,54.37 L147.34,53.95 L147.55,53.50 L147.76,53.04 L147.97,52.59 L148.18,52.14 L148.39,51.72 L148.60,51.32 L148.81,50.96 L149.02,50.65 L149.23,50.38 L149.44,50.17 L149.65,50.02 L149.86,49.93 L150.07,49.90 L150.28,49.94 L150.49,50.04 L150.71,50.21 L150.92,50.43 L151.13,50.71 L151.34,51.04 L151.55,51.41 L151.76,51.81 L151.97,52.24 L152.18,52.69 L152.39,53.14 L152.60,53.60 L152.81,54.04 L153.02,54.46 L153.23,54.85 L153.44,55.20 L153.65,55.49 L153.86,55.72 L154.07,55.87 L154.29,55.88 L154.50,55.76 L154.71,55.54 L154.92,55.26 L155.13,54.92 L155.34,54.54 L155.55,54.12 L155.76,53.68 L155.97,53.23 L156.18,52.77 L156.39,52.32 L156.60,51.89 L156.81,51.48 L157.02,51.10 L157.23,50.77 L157.44,50.48 L157.66,50.25 L157.87,50.07 L158.08,49.95 L158.29,49.90 L158.50,49.92 L158.71,49.99 L158.92,50.13 L159.13,50.33 L159.34,50.59 L159.55,50.90 L159.76,51.25 L159.97,51.64 L160.18,52.06 L160.39,52.50 L160.60,52.96 L160.81,53.41 L161.03,53.86 L161.24,54.30 L161.45,54.70 L161.66,55.06 L161.87,55.38 L162.08,55.64 L162.29,55.82 L162.50,55.90" fill="none" stroke="#b4b4b4" stroke-width="1.25" stroke-linecap="round" stroke-linejoin="round"/>
<path d="M128.50,65.60 L129.01,64.46 L129.22,64.58 L129.43,64.56 L129.64,64.41 L129.85,64.18 L130.06,63.89 L130.27,63.54 L130.49,63.15 L130.70,62.73 L130.91,62.28 L131.12,61.83 L131.33,61.37 L131.54,60.93 L131.75,60.50 L131.96,60.09 L132.17,59.73 L132.38,59.40 L132.59,59.12 L132.80,58.90 L133.01,58.74 L133.22,58.64 L133.43,58.60 L133.64,58.63 L133.86,58.72 L134.07,58.87 L134.28,59.09 L134.49,59.35 L134.70,59.67 L134.91,60.03 L135.12,60.43 L135.33,60.86 L135.54,61.30 L135.75,61.76 L135.96,62.21 L136.17,62.66 L136.38,63.09 L136.59,63.48 L136.80,63.84 L137.01,64.14 L137.23,64.38 L137.44,64.55 L137.65,64.59 L137.86,64.49 L138.07,64.29 L138.28,64.02 L138.49,63.69 L138.70,63.31 L138.91,62.90 L139.12,62.47 L139.33,62.01 L139.54,61.56 L139.75,61.11 L139.96,60.67 L140.17,60.25 L140.38,59.87 L140.59,59.53 L140.81,59.23 L141.02,58.99 L141.23,58.80 L141.44,58.67 L141.65,58.61 L141.86,58.61 L142.07,58.67 L142.28,58.80 L142.49,58.99 L142.70,59.24 L142.91,59.54 L143.12,59.88 L143.33,60.27 L143.54,60.68 L143.75,61.12 L143.97,61.57 L144.18,62.03 L144.39,62.48 L144.60,62.92 L144.81,63.33 L145.02,63.70 L145.23,64.03 L145.44,64.29 L145.65,64.49 L145.86,64.60 L146.07,64.54 L146.28,64.38 L146.49,64.13 L146.70,63.83 L146.91,63.47 L147.12,63.07 L147.34,62.65 L147.55,62.20 L147.76,61.74 L147.97,61.29 L148.18,60.84 L148.39,60.42 L148.60,60.02 L148.81,59.66 L149.02,59.35 L149.23,59.08 L149.44,58.87 L149.65,58.72 L149.86,58.63 L150.07,58.60 L150.28,58.64 L150.49,58.74 L150.71,58.91 L150.92,59.13 L151.13,59.41 L151.34,59.74 L151.55,60.11 L151.76,60.51 L151.97,60.94 L152.18,61.39 L152.39,61.84 L152.60,62.30 L152.81,62.74 L153.02,63.16 L153.23,63.55 L153.44,63.90 L153.65,64.19 L153.86,64.42 L154.07,64.57 L154.29,64.58 L154.50,64.46 L154.71,64.24 L154.92,63.96 L155.13,63.62 L155.34,63.24 L155.55,62.82 L155.76,62.38 L155.97,61.93 L156.18,61.47 L156.39,61.02 L156.60,60.59 L156.81,60.18 L157.02,59.80 L157.23,59.47 L157.44,59.18 L157.66,58.95 L157.87,58.77 L158.08,58.65 L158.29,58.60 L158.50,58.62 L158.71,58.69 L158.92,58.83 L159.13,59.03 L159.34,59.29 L159.55,59.60 L159.76,59.95 L159.97,60.34 L160.18,60.76 L160.39,61.20 L160.60,61.66 L160.81,62.11 L161.03,62.56 L161.24,63.00 L161.45,63.40 L161.66,63.76 L161.87,64.08 L162.08,64.34 L162.29,64.52 L162.50,64.60" fill="none" stroke="#d02020" stroke-width="1.25" stroke-linecap="round" stroke-linejoin="round"/>
<path d="M128.50,70.80 L129.01,69.66 L129.22,69.78 L129.43,69.76 L129.64,69.61 L129.85,69.38 L130.06,69.09 L130.27,68.74 L130.49,68.35 L130.70,67.93 L130.91,67.48 L131.12,67.03 L131.33,66.57 L131.54,66.13 L131.75,65.70 L131.96,65.29 L132.17,64.93 L132.38,64.60 L132.59,64.32 L132.80,64.10 L133.01,63.94 L133.22,63.84 L133.43,63.80 L133.64,63.83 L133.86,63.92 L134.07,64.07 L134.28,64.29 L134.49,64.55 L134.70,64.87 L134.91,65.23 L135.12,65.63 L135.33,66.06 L135.54,66.50 L135.75,66.96 L135.96,67.41 L136.17,67.86 L136.38,68.29 L136.59,68.68 L136.80,69.04 L137.01,69.34 L137.23,69.58 L137.44,69.75 L137.65,69.79 L137.86,69.69 L138.07,69.49 L138.28,69.22 L138.49,68.89 L138.70,68.51 L138.91,68.10 L139.12,67.67 L139.33,67.21 L139.54,66.76 L139.75,66.31 L139.96,65.87 L140.17,65.45 L140.38,65.07 L140.59,64.73 L140.81,64.43 L141.02,64.19 L141.23,64.00 L141.44,63.87 L141.65,63.81 L141.86,63.81 L142.07,63.87 L142.28,64.00 L142.49,64.19 L142.70,64.44 L142.91,64.74 L143.12,65.08 L143.33,65.47 L143.54,65.88 L143.75,66.32 L143.97,66.77 L144.18,67.23 L144.39,67.68 L144.60,68.12 L144.81,68.53 L145.02,68.90 L145.23,69.23 L145.44,69.49 L145.65,69.69 L145.86,69.80 L146.07,69.74 L146.28,69.58 L146.49,69.33 L146.70,69.03 L146.91,68.67 L147.12,68.27 L147.34,67.85 L147.55,67.40 L147.76,66.94 L147.97,66.49 L148.18,66.04 L148.39,65.62 L148.60,65.22 L148.81,64.86 L149.02,64.55 L149.23,64.28 L149.44,64.07 L149.65,63.92 L149.86,63.83 L150.07,63.80 L150.28,63.84 L150.49,63.94 L150.71,64.11 L150.92,64.33 L151.13,64.61 L151.34,64.94 L151.55,65.31 L151.76,65.71 L151.97,66.14 L152.18,66.59 L152.39,67.04 L152.60,67.50 L152.81,67.94 L153.02,68.36 L153.23,68.75 L153.44,69.10 L153.65,69.39 L153.86,69.62 L154.07,69.77 L154.29,69.78 L154.50,69.66 L154.71,69.44 L154.92,69.16 L155.13,68.82 L155.34,68.44 L155.55,68.02 L155.76,67.58 L155.97,67.13 L156.18,66.67 L156.39,66.22 L156.60,65.79 L156.81,65.38 L157.02,65.00 L157.23,64.67 L157.44,64.38 L157.66,64.15 L157.87,63.97 L158.08,63.85 L158.29,63.80 L158.50,63.82 L158.71,63.89 L158.92,64.03 L159.13,64.23 L159.34,64.49 L159.55,64.80 L159.76,65.15 L159.97,65.54 L160.18,65.96 L160.39,66.40 L160.60,66.86 L160.81,67.31 L161.03,67.76 L161.24,68.20 L161.45,68.60 L161.66,68.96 L161.87,69.28 L162.08,69.54 L162.29,69.72 L162.50,69.80" fill="none" stroke="#4472c4" stroke-width="1.25" stroke-linecap="round" stroke-linejoin="round"/>
<path d="M128.50,76.90 L129.01,75.76 L129.22,75.88 L129.43,75.86 L129.64,75.71 L129.85,75.48 L130.06,75.19 L130.27,74.84 L130.49,74.45 L130.70,74.03 L130.91,73.58 L131.12,73.13 L131.33,72.67 L131.54,72.23 L131.75,71.80 L131.96,71.39 L132.17,71.03 L132.38,70.70 L132.59,70.42 L132.80,70.20 L133.01,70.04 L133.22,69.94 L133.43,69.90 L133.64,69.93 L133.86,70.02 L134.07,70.17 L134.28,70.39 L134.49,70.65 L134.70,70.97 L134.91,71.33 L135.12,71.73 L135.33,72.16 L135.54,72.60 L135.75,73.06 L135.96,73.51 L136.17,73.96 L136.38,74.39 L136.59,74.78 L136.80,75.14 L137.01,75.44 L137.23,75.68 L137.44,75.85 L137.65,75.89 L137.86,75.79 L138.07,75.59 L138.28,75.32 L138.49,74.99 L138.70,74.61 L138.91,74.20 L139.12,73.77 L139.33,73.31 L139.54,72.86 L139.75,72.41 L139.96,71.97 L140.17,71.55 L140.38,71.17 L140.59,70.83 L140.81,70.53 L141.02,70.29 L141.23,70.10 L141.44,69.97 L141.65,69.91 L141.86,69.91 L142.07,69.97 L142.28,70.10 L142.49,70.29 L142.70,70.54 L142.91,70.84 L143.12,71.18 L143.33,71.57 L143.54,71.98 L143.75,72.42 L143.97,72.87 L144.18,73.33 L144.39,73.78 L144.60,74.22 L144.81,74.63 L145.02,75.00 L145.23,75.33 L145.44,75.59 L145.65,75.79 L145.86,75.90 L146.07,75.84 L146.28,75.68 L146.49,75.43 L146.70,75.13 L146.91,74.77 L147.12,74.37 L147.34,73.95 L147.55,73.50 L147.76,73.04 L147.97,72.59 L148.18,72.14 L148.39,71.72 L148.60,71.32 L148.81,70.96 L149.02,70.65 L149.23,70.38 L149.44,70.17 L149.65,70.02 L149.86,69.93 L150.07,69.90 L150.28,69.94 L150.49,70.04 L150.71,70.21 L150.92,70.43 L151.13,70.71 L151.34,71.04 L151.55,71.41 L151.76,71.81 L151.97,72.24 L152.18,72.69 L152.39,73.14 L152.60,73.60 L152.81,74.04 L153.02,74.46 L153.23,74.85 L153.44,75.20 L153.65,75.49 L153.86,75.72 L154.07,75.87 L154.29,75.88 L154.50,75.76 L154.71,75.54 L154.92,75.26 L155.13,74.92 L155.34,74.54 L155.55,74.12 L155.76,73.68 L155.97,73.23 L156.18,72.77 L156.39,72.32 L156.60,71.89 L156.81,71.48 L157.02,71.10 L157.23,70.77 L157.44,70.48 L157.66,70.25 L157.87,70.07 L158.08,69.95 L158.29,69.90 L158.50,69.92 L158.71,69.99 L158.92,70.13 L159.13,70.33 L159.34,70.59 L159.55,70.90 L159.76,71.25 L159.97,71.64 L160.18,72.06 L160.39,72.50 L160.60,72.96 L160.81,73.41 L161.03,73.86 L161.24,74.30 L161.45,74.70 L161.66,75.06 L161.87,75.38 L162.08,75.64 L162.29,75.82 L162.50,75.90" fill="none" stroke="#000" stroke-width="1.25" stroke-linecap="round" stroke-linejoin="round"/>
<path d="M128.50,87.20 L129.01,86.06 L129.22,86.18 L129.43,86.16 L129.64,86.01 L129.85,85.78 L130.06,85.49 L130.27,85.14 L130.49,84.75 L130.70,84.33 L130.91,83.88 L131.12,83.43 L131.33,82.97 L131.54,82.53 L131.75,82.10 L131.96,81.69 L132.17,81.33 L132.38,81.00 L132.59,80.72 L132.80,80.50 L133.01,80.34 L133.22,80.24 L133.43,80.20 L133.64,80.23 L133.86,80.32 L134.07,80.47 L134.28,80.69 L134.49,80.95 L134.70,81.27 L134.91,81.63 L135.12,82.03 L135.33,82.46 L135.54,82.90 L135.75,83.36 L135.96,83.81 L136.17,84.26 L136.38,84.69 L136.59,85.08 L136.80,85.44 L137.01,85.74 L137.23,85.98 L137.44,86.15 L137.65,86.19 L137.86,86.09 L138.07,85.89 L138.28,85.62 L138.49,85.29 L138.70,84.91 L138.91,84.50 L139.12,84.07 L139.33,83.61 L139.54,83.16 L139.75,82.71 L139.96,82.27 L140.17,81.85 L140.38,81.47 L140.59,81.13 L140.81,80.83 L141.02,80.59 L141.23,80.40 L141.44,80.27 L141.65,80.21 L141.86,80.21 L142.07,80.27 L142.28,80.40 L142.49,80.59 L142.70,80.84 L142.91,81.14 L143.12,81.48 L143.33,81.87 L143.54,82.28 L143.75,82.72 L143.97,83.17 L144.18,83.63 L144.39,84.08 L144.60,84.52 L144.81,84.93 L145.02,85.30 L145.23,85.63 L145.44,85.89 L145.65,86.09 L145.86,86.20 L146.07,86.14 L146.28,85.98 L146.49,85.73 L146.70,85.43 L146.91,85.07 L147.12,84.67 L147.34,84.25 L147.55,83.80 L147.76,83.34 L147.97,82.89 L148.18,82.44 L148.39,82.02 L148.60,81.62 L148.81,81.26 L149.02,80.95 L149.23,80.68 L149.44,80.47 L149.65,80.32 L149.86,80.23 L150.07,80.20 L150.28,80.24 L150.49,80.34 L150.71,80.51 L150.92,80.73 L151.13,81.01 L151.34,81.34 L151.55,81.71 L151.76,82.11 L151.97,82.54 L152.18,82.99 L152.39,83.44 L152.60,83.90 L152.81,84.34 L153.02,84.76 L153.23,85.15 L153.44,85.50 L153.65,85.79 L153.86,86.02 L154.07,86.17 L154.29,86.18 L154.50,86.06 L154.71,85.84 L154.92,85.56 L155.13,85.22 L155.34,84.84 L155.55,84.42 L155.76,83.98 L155.97,83.53 L156.18,83.07 L156.39,82.62 L156.60,82.19 L156.81,81.78 L157.02,81.40 L157.23,81.07 L157.44,80.78 L157.66,80.55 L157.87,80.37 L158.08,80.25 L158.29,80.20 L158.50,80.22 L158.71,80.29 L158.92,80.43 L159.13,80.63 L159.34,80.89 L159.55,81.20 L159.76,81.55 L159.97,81.94 L160.18,82.36 L160.39,82.80 L160.60,83.26 L160.81,83.71 L161.03,84.16 L161.24,84.60 L161.45,85.00 L161.66,85.36 L161.87,85.68 L162.08,85.94 L162.29,86.12 L162.50,86.20" fill="none" stroke="#ffc000" stroke-width="1.25" stroke-linecap="round" stroke-linejoin="round"/>
<path d="M128.50,92.30 L129.01,91.16 L129.22,91.28 L129.43,91.26 L129.64,91.11 L129.85,90.88 L130.06,90.59 L130.27,90.24 L130.49,89.85 L130.70,89.43 L130.91,88.98 L131.12,88.53 L131.33,88.07 L131.54,87.63 L131.75,87.20 L131.96,86.79 L132.17,86.43 L132.38,86.10 L132.59,85.82 L132.80,85.60 L133.01,85.44 L133.22,85.34 L133.43,85.30 L133.64,85.33 L133.86,85.42 L134.07,85.57 L134.28,85.79 L134.49,86.05 L134.70,86.37 L134.91,86.73 L135.12,87.13 L135.33,87.56 L135.54,88.00 L135.75,88.46 L135.96,88.91 L136.17,89.36 L136.38,89.79 L136.59,90.18 L136.80,90.54 L137.01,90.84 L137.23,91.08 L137.44,91.25 L137.65,91.29 L137.86,91.19 L138.07,90.99 L138.28,90.72 L138.49,90.39 L138.70,90.01 L138.91,89.60 L139.12,89.17 L139.33,88.71 L139.54,88.26 L139.75,87.81 L139.96,87.37 L140.17,86.95 L140.38,86.57 L140.59,86.23 L140.81,85.93 L141.02,85.69 L141.23,85.50 L141.44,85.37 L141.65,85.31 L141.86,85.31 L142.07,85.37 L142.28,85.50 L142.49,85.69 L142.70,85.94 L142.91,86.24 L143.12,86.58 L143.33,86.97 L143.54,87.38 L143.75,87.82 L143.97,88.27 L144.18,88.73 L144.39,89.18 L144.60,89.62 L144.81,90.03 L145.02,90.40 L145.23,90.73 L145.44,90.99 L145.65,91.19 L145.86,91.30 L146.07,91.24 L146.28,91.08 L146.49,90.83 L146.70,90.53 L146.91,90.17 L147.12,89.77 L147.34,89.35 L147.55,88.90 L147.76,88.44 L147.97,87.99 L148.18,87.54 L148.39,87.12 L148.60,86.72 L148.81,86.36 L149.02,86.05 L149.23,85.78 L149.44,85.57 L149.65,85.42 L149.86,85.33 L150.07,85.30 L150.28,85.34 L150.49,85.44 L150.71,85.61 L150.92,85.83 L151.13,86.11 L151.34,86.44 L151.55,86.81 L151.76,87.21 L151.97,87.64 L152.18,88.09 L152.39,88.54 L152.60,89.00 L152.81,89.44 L153.02,89.86 L153.23,90.25 L153.44,90.60 L153.65,90.89 L153.86,91.12 L154.07,91.27 L154.29,91.28 L154.50,91.16 L154.71,90.94 L154.92,90.66 L155.13,90.32 L155.34,89.94 L155.55,89.52 L155.76,89.08 L155.97,88.63 L156.18,88.17 L156.39,87.72 L156.60,87.29 L156.81,86.88 L157.02,86.50 L157.23,86.17 L157.44,85.88 L157.66,85.65 L157.87,85.47 L158.08,85.35 L158.29,85.30 L158.50,85.32 L158.71,85.39 L158.92,85.53 L159.13,85.73 L159.34,85.99 L159.55,86.30 L159.76,86.65 L159.97,87.04 L160.18,87.46 L160.39,87.90 L160.60,88.36 L160.81,88.81 L161.03,89.26 L161.24,89.70 L161.45,90.10 L161.66,90.46 L161.87,90.78 L162.08,91.04 L162.29,91.22 L162.50,91.30" fill="none" stroke="#b4b4b4" stroke-width="1.25" stroke-linecap="round" stroke-linejoin="round"/>
<path d="M128.50,98.10 L129.01,96.96 L129.22,97.08 L129.43,97.06 L129.64,96.91 L129.85,96.68 L130.06,96.39 L130.27,96.04 L130.49,95.65 L130.70,95.23 L130.91,94.78 L131.12,94.33 L131.33,93.87 L131.54,93.43 L131.75,93.00 L131.96,92.59 L132.17,92.23 L132.38,91.90 L132.59,91.62 L132.80,91.40 L133.01,91.24 L133.22,91.14 L133.43,91.10 L133.64,91.13 L133.86,91.22 L134.07,91.37 L134.28,91.59 L134.49,91.85 L134.70,92.17 L134.91,92.53 L135.12,92.93 L135.33,93.36 L135.54,93.80 L135.75,94.26 L135.96,94.71 L136.17,95.16 L136.38,95.59 L136.59,95.98 L136.80,96.34 L137.01,96.64 L137.23,96.88 L137.44,97.05 L137.65,97.09 L137.86,96.99 L138.07,96.79 L138.28,96.52 L138.49,96.19 L138.70,95.81 L138.91,95.40 L139.12,94.97 L139.33,94.51 L139.54,94.06 L139.75,93.61 L139.96,93.17 L140.17,92.75 L140.38,92.37 L140.59,92.03 L140.81,91.73 L141.02,91.49 L141.23,91.30 L141.44,91.17 L141.65,91.11 L141.86,91.11 L142.07,91.17 L142.28,91.30 L142.49,91.49 L142.70,91.74 L142.91,92.04 L143.12,92.38 L143.33,92.77 L143.54,93.18 L143.75,93.62 L143.97,94.07 L144.18,94.53 L144.39,94.98 L144.60,95.42 L144.81,95.83 L145.02,96.20 L145.23,96.53 L145.44,96.79 L145.65,96.99 L145.86,97.10 L146.07,97.04 L146.28,96.88 L146.49,96.63 L146.70,96.33 L146.91,95.97 L147.12,95.57 L147.34,95.15 L147.55,94.70 L147.76,94.24 L147.97,93.79 L148.18,93.34 L148.39,92.92 L148.60,92.52 L148.81,92.16 L149.02,91.85 L149.23,91.58 L149.44,91.37 L149.65,91.22 L149.86,91.13 L150.07,91.10 L150.28,91.14 L150.49,91.24 L150.71,91.41 L150.92,91.63 L151.13,91.91 L151.34,92.24 L151.55,92.61 L151.76,93.01 L151.97,93.44 L152.18,93.89 L152.39,94.34 L152.60,94.80 L152.81,95.24 L153.02,95.66 L153.23,96.05 L153.44,96.40 L153.65,96.69 L153.86,96.92 L154.07,97.07 L154.29,97.08 L154.50,96.96 L154.71,96.74 L154.92,96.46 L155.13,96.12 L155.34,95.74 L155.55,95.32 L155.76,94.88 L155.97,94.43 L156.18,93.97 L156.39,93.52 L156.60,93.09 L156.81,92.68 L157.02,92.30 L157.23,91.97 L157.44,91.68 L157.66,91.45 L157.87,91.27 L158.08,91.15 L158.29,91.10 L158.50,91.12 L158.71,91.19 L158.92,91.33 L159.13,91.53 L159.34,91.79 L159.55,92.10 L159.76,92.45 L159.97,92.84 L160.18,93.26 L160.39,93.70 L160.60,94.16 L160.81,94.61 L161.03,95.06 L161.24,95.50 L161.45,95.90 L161.66,96.26 L161.87,96.58 L162.08,96.84 L162.29,97.02 L162.50,97.10" fill="none" stroke="#d02020" stroke-width="1.25" stroke-linecap="round" stroke-linejoin="round"/>
<path d="M135.50,118.70 L136.01,116.82 L136.21,116.64 L136.42,116.39 L136.62,116.08 L136.83,115.73 L137.03,115.33 L137.24,114.91 L137.44,114.47 L137.65,114.03 L137.85,113.58 L138.06,113.14 L138.26,112.72 L138.47,112.32 L138.67,111.96 L138.88,111.63 L139.08,111.35 L139.28,111.12 L139.49,110.95 L139.70,110.83 L139.90,110.78 L140.11,110.78 L140.31,110.85 L140.52,110.97 L140.72,111.15 L140.93,111.39 L141.13,111.67 L141.34,112.00 L141.54,112.37 L141.75,112.76 L141.95,113.18 L142.16,113.61 L142.36,114.04 L142.56,114.48 L142.77,114.90 L142.97,115.30 L143.18,115.66 L143.39,115.99 L143.59,116.27 L143.80,116.48 L144.00,116.61 L144.21,116.63 L144.41,116.51 L144.62,116.30 L144.82,116.03 L145.03,115.70 L145.23,115.33 L145.44,114.93 L145.64,114.50 L145.84,114.06 L146.05,113.61 L146.25,113.16 L146.46,112.73 L146.67,112.31 L146.87,111.93 L147.08,111.58 L147.28,111.27 L147.49,111.01 L147.69,110.80 L147.90,110.65 L148.10,110.55 L148.31,110.52 L148.51,110.55 L148.72,110.63 L148.92,110.78 L149.12,110.98 L149.33,111.23 L149.53,111.53 L149.74,111.88 L149.94,112.25 L150.15,112.66 L150.36,113.08 L150.56,113.51 L150.77,113.95 L150.97,114.38 L151.18,114.79 L151.38,115.18 L151.59,115.54 L151.79,115.84 L152.00,116.10 L152.20,116.28 L152.41,116.39 L152.61,116.34 L152.81,116.19 L153.02,115.95 L153.22,115.66 L153.43,115.32 L153.63,114.93 L153.84,114.52 L154.05,114.09 L154.25,113.64 L154.46,113.19 L154.66,112.75 L154.87,112.32 L155.07,111.92 L155.28,111.54 L155.48,111.21 L155.69,110.91 L155.89,110.67 L156.09,110.48 L156.30,110.35 L156.50,110.28 L156.71,110.27 L156.91,110.32 L157.12,110.43 L157.32,110.59 L157.53,110.81 L157.74,111.09 L157.94,111.40 L158.15,111.76 L158.35,112.14 L158.56,112.56 L158.76,112.98 L158.97,113.42 L159.17,113.85 L159.38,114.28 L159.58,114.69 L159.78,115.06 L159.99,115.40 L160.19,115.69 L160.40,115.92 L160.60,116.08 L160.81,116.14 L161.01,116.04 L161.22,115.85 L161.43,115.60 L161.63,115.29 L161.84,114.93 L162.04,114.53 L162.25,114.11 L162.45,113.67 L162.66,113.22 L162.86,112.77 L163.06,112.33 L163.27,111.91 L163.47,111.52 L163.68,111.16 L163.88,110.84 L164.09,110.57 L164.29,110.34 L164.50,110.17 L164.70,110.06 L164.91,110.01 L165.12,110.02 L165.32,110.10 L165.53,110.23 L165.73,110.41 L165.94,110.65 L166.14,110.94 L166.34,111.27 L166.55,111.64 L166.75,112.04 L166.96,112.46 L167.16,112.89 L167.37,113.33 L167.57,113.76 L167.78,114.18 L167.99,114.57 L168.19,114.94 L168.39,115.26 L168.60,115.53" fill="none" stroke="#4472c4" stroke-width="1.35" stroke-linecap="round" stroke-linejoin="round"/>
<path d="M135.50,132.10 L136.01,130.22 L136.21,130.04 L136.42,129.79 L136.62,129.48 L136.83,129.13 L137.03,128.73 L137.24,128.31 L137.44,127.87 L137.65,127.43 L137.85,126.98 L138.06,126.54 L138.26,126.12 L138.47,125.72 L138.67,125.36 L138.88,125.03 L139.08,124.75 L139.28,124.52 L139.49,124.35 L139.70,124.23 L139.90,124.18 L140.11,124.18 L140.31,124.25 L140.52,124.37 L140.72,124.55 L140.93,124.79 L141.13,125.07 L141.34,125.40 L141.54,125.77 L141.75,126.16 L141.95,126.58 L142.16,127.01 L142.36,127.44 L142.56,127.88 L142.77,128.30 L142.97,128.70 L143.18,129.06 L143.39,129.39 L143.59,129.67 L143.80,129.88 L144.00,130.01 L144.21,130.03 L144.41,129.91 L144.62,129.70 L144.82,129.43 L145.03,129.10 L145.23,128.73 L145.44,128.33 L145.64,127.90 L145.84,127.46 L146.05,127.01 L146.25,126.56 L146.46,126.13 L146.67,125.71 L146.87,125.33 L147.08,124.98 L147.28,124.67 L147.49,124.41 L147.69,124.20 L147.90,124.05 L148.10,123.95 L148.31,123.92 L148.51,123.95 L148.72,124.03 L148.92,124.18 L149.12,124.38 L149.33,124.63 L149.53,124.93 L149.74,125.28 L149.94,125.65 L150.15,126.06 L150.36,126.48 L150.56,126.91 L150.77,127.35 L150.97,127.78 L151.18,128.19 L151.38,128.58 L151.59,128.94 L151.79,129.24 L152.00,129.50 L152.20,129.68 L152.41,129.79 L152.61,129.74 L152.81,129.59 L153.02,129.35 L153.22,129.06 L153.43,128.72 L153.63,128.33 L153.84,127.92 L154.05,127.49 L154.25,127.04 L154.46,126.59 L154.66,126.15 L154.87,125.72 L155.07,125.32 L155.28,124.94 L155.48,124.61 L155.69,124.31 L155.89,124.07 L156.09,123.88 L156.30,123.75 L156.50,123.68 L156.71,123.67 L156.91,123.72 L157.12,123.83 L157.32,123.99 L157.53,124.21 L157.74,124.49 L157.94,124.80 L158.15,125.16 L158.35,125.54 L158.56,125.96 L158.76,126.38 L158.97,126.82 L159.17,127.25 L159.38,127.68 L159.58,128.09 L159.78,128.46 L159.99,128.80 L160.19,129.09 L160.40,129.32 L160.60,129.48 L160.81,129.54 L161.01,129.44 L161.22,129.25 L161.43,129.00 L161.63,128.69 L161.84,128.33 L162.04,127.93 L162.25,127.51 L162.45,127.07 L162.66,126.62 L162.86,126.17 L163.06,125.73 L163.27,125.31 L163.47,124.92 L163.68,124.56 L163.88,124.24 L164.09,123.97 L164.29,123.74 L164.50,123.57 L164.70,123.46 L164.91,123.41 L165.12,123.42 L165.32,123.50 L165.53,123.63 L165.73,123.81 L165.94,124.05 L166.14,124.34 L166.34,124.67 L166.55,125.04 L166.75,125.44 L166.96,125.86 L167.16,126.29 L167.37,126.73 L167.57,127.16 L167.78,127.58 L167.99,127.97 L168.19,128.34 L168.39,128.66 L168.60,128.93" fill="none" stroke="#ffc000" stroke-width="1.35" stroke-linecap="round" stroke-linejoin="round"/>
<path d="M135.50,146.10 L136.01,144.22 L136.21,144.04 L136.42,143.79 L136.62,143.48 L136.83,143.13 L137.03,142.73 L137.24,142.31 L137.44,141.87 L137.65,141.43 L137.85,140.98 L138.06,140.54 L138.26,140.12 L138.47,139.72 L138.67,139.36 L138.88,139.03 L139.08,138.75 L139.28,138.52 L139.49,138.35 L139.70,138.23 L139.90,138.18 L140.11,138.18 L140.31,138.25 L140.52,138.37 L140.72,138.55 L140.93,138.79 L141.13,139.07 L141.34,139.40 L141.54,139.77 L141.75,140.16 L141.95,140.58 L142.16,141.01 L142.36,141.44 L142.56,141.88 L142.77,142.30 L142.97,142.70 L143.18,143.06 L143.39,143.39 L143.59,143.67 L143.80,143.88 L144.00,144.01 L144.21,144.03 L144.41,143.91 L144.62,143.70 L144.82,143.43 L145.03,143.10 L145.23,142.73 L145.44,142.33 L145.64,141.90 L145.84,141.46 L146.05,141.01 L146.25,140.56 L146.46,140.13 L146.67,139.71 L146.87,139.33 L147.08,138.98 L147.28,138.67 L147.49,138.41 L147.69,138.20 L147.90,138.05 L148.10,137.95 L148.31,137.92 L148.51,137.95 L148.72,138.03 L148.92,138.18 L149.12,138.38 L149.33,138.63 L149.53,138.93 L149.74,139.28 L149.94,139.65 L150.15,140.06 L150.36,140.48 L150.56,140.91 L150.77,141.35 L150.97,141.78 L151.18,142.19 L151.38,142.58 L151.59,142.94 L151.79,143.24 L152.00,143.50 L152.20,143.68 L152.41,143.79 L152.61,143.74 L152.81,143.59 L153.02,143.35 L153.22,143.06 L153.43,142.72 L153.63,142.33 L153.84,141.92 L154.05,141.49 L154.25,141.04 L154.46,140.59 L154.66,140.15 L154.87,139.72 L155.07,139.32 L155.28,138.94 L155.48,138.61 L155.69,138.31 L155.89,138.07 L156.09,137.88 L156.30,137.75 L156.50,137.68 L156.71,137.67 L156.91,137.72 L157.12,137.83 L157.32,137.99 L157.53,138.21 L157.74,138.49 L157.94,138.80 L158.15,139.16 L158.35,139.54 L158.56,139.96 L158.76,140.38 L158.97,140.82 L159.17,141.25 L159.38,141.68 L159.58,142.09 L159.78,142.46 L159.99,142.80 L160.19,143.09 L160.40,143.32 L160.60,143.48 L160.81,143.54 L161.01,143.44 L161.22,143.25 L161.43,143.00 L161.63,142.69 L161.84,142.33 L162.04,141.93 L162.25,141.51 L162.45,141.07 L162.66,140.62 L162.86,140.17 L163.06,139.73 L163.27,139.31 L163.47,138.92 L163.68,138.56 L163.88,138.24 L164.09,137.97 L164.29,137.74 L164.50,137.57 L164.70,137.46 L164.91,137.41 L165.12,137.42 L165.32,137.50 L165.53,137.63 L165.73,137.81 L165.94,138.05 L166.14,138.34 L166.34,138.67 L166.55,139.04 L166.75,139.44 L166.96,139.86 L167.16,140.29 L167.37,140.73 L167.57,141.16 L167.78,141.58 L167.99,141.97 L168.19,142.34 L168.39,142.66 L168.60,142.93" fill="none" stroke="#d02020" stroke-width="1.35" stroke-linecap="round" stroke-linejoin="round"/>
<path d="M135.50,159.60 L136.01,157.72 L136.21,157.54 L136.42,157.29 L136.62,156.98 L136.83,156.63 L137.03,156.23 L137.24,155.81 L137.44,155.37 L137.65,154.93 L137.85,154.48 L138.06,154.04 L138.26,153.62 L138.47,153.22 L138.67,152.86 L138.88,152.53 L139.08,152.25 L139.28,152.02 L139.49,151.85 L139.70,151.73 L139.90,151.68 L140.11,151.68 L140.31,151.75 L140.52,151.87 L140.72,152.05 L140.93,152.29 L141.13,152.57 L141.34,152.90 L141.54,153.27 L141.75,153.66 L141.95,154.08 L142.16,154.51 L142.36,154.94 L142.56,155.38 L142.77,155.80 L142.97,156.20 L143.18,156.56 L143.39,156.89 L143.59,157.17 L143.80,157.38 L144.00,157.51 L144.21,157.53 L144.41,157.41 L144.62,157.20 L144.82,156.93 L145.03,156.60 L145.23,156.23 L145.44,155.83 L145.64,155.40 L145.84,154.96 L146.05,154.51 L146.25,154.06 L146.46,153.63 L146.67,153.21 L146.87,152.83 L147.08,152.48 L147.28,152.17 L147.49,151.91 L147.69,151.70 L147.90,151.55 L148.10,151.45 L148.31,151.42 L148.51,151.45 L148.72,151.53 L148.92,151.68 L149.12,151.88 L149.33,152.13 L149.53,152.43 L149.74,152.78 L149.94,153.15 L150.15,153.56 L150.36,153.98 L150.56,154.41 L150.77,154.85 L150.97,155.28 L151.18,155.69 L151.38,156.08 L151.59,156.44 L151.79,156.74 L152.00,157.00 L152.20,157.18 L152.41,157.29 L152.61,157.24 L152.81,157.09 L153.02,156.85 L153.22,156.56 L153.43,156.22 L153.63,155.83 L153.84,155.42 L154.05,154.99 L154.25,154.54 L154.46,154.09 L154.66,153.65 L154.87,153.22 L155.07,152.82 L155.28,152.44 L155.48,152.11 L155.69,151.81 L155.89,151.57 L156.09,151.38 L156.30,151.25 L156.50,151.18 L156.71,151.17 L156.91,151.22 L157.12,151.33 L157.32,151.49 L157.53,151.71 L157.74,151.99 L157.94,152.30 L158.15,152.66 L158.35,153.04 L158.56,153.46 L158.76,153.88 L158.97,154.32 L159.17,154.75 L159.38,155.18 L159.58,155.59 L159.78,155.96 L159.99,156.30 L160.19,156.59 L160.40,156.82 L160.60,156.98 L160.81,157.04 L161.01,156.94 L161.22,156.75 L161.43,156.50 L161.63,156.19 L161.84,155.83 L162.04,155.43 L162.25,155.01 L162.45,154.57 L162.66,154.12 L162.86,153.67 L163.06,153.23 L163.27,152.81 L163.47,152.42 L163.68,152.06 L163.88,151.74 L164.09,151.47 L164.29,151.24 L164.50,151.07 L164.70,150.96 L164.91,150.91 L165.12,150.92 L165.32,151.00 L165.53,151.13 L165.73,151.31 L165.94,151.55 L166.14,151.84 L166.34,152.17 L166.55,152.54 L166.75,152.94 L166.96,153.36 L167.16,153.79 L167.37,154.23 L167.57,154.66 L167.78,155.08 L167.99,155.47 L168.19,155.84 L168.39,156.16 L168.60,156.43" fill="none" stroke="#00b050" stroke-width="1.35" stroke-linecap="round" stroke-linejoin="round"/>
<path d="M135.50,173.40 L136.01,171.52 L136.21,171.34 L136.42,171.09 L136.62,170.78 L136.83,170.43 L137.03,170.03 L137.24,169.61 L137.44,169.17 L137.65,168.73 L137.85,168.28 L138.06,167.84 L138.26,167.42 L138.47,167.02 L138.67,166.66 L138.88,166.33 L139.08,166.05 L139.28,165.82 L139.49,165.65 L139.70,165.53 L139.90,165.48 L140.11,165.48 L140.31,165.55 L140.52,165.67 L140.72,165.85 L140.93,166.09 L141.13,166.37 L141.34,166.70 L141.54,167.07 L141.75,167.46 L141.95,167.88 L142.16,168.31 L142.36,168.74 L142.56,169.18 L142.77,169.60 L142.97,170.00 L143.18,170.36 L143.39,170.69 L143.59,170.97 L143.80,171.18 L144.00,171.31 L144.21,171.33 L144.41,171.21 L144.62,171.00 L144.82,170.73 L145.03,170.40 L145.23,170.03 L145.44,169.63 L145.64,169.20 L145.84,168.76 L146.05,168.31 L146.25,167.86 L146.46,167.43 L146.67,167.01 L146.87,166.63 L147.08,166.28 L147.28,165.97 L147.49,165.71 L147.69,165.50 L147.90,165.35 L148.10,165.25 L148.31,165.22 L148.51,165.25 L148.72,165.33 L148.92,165.48 L149.12,165.68 L149.33,165.93 L149.53,166.23 L149.74,166.58 L149.94,166.95 L150.15,167.36 L150.36,167.78 L150.56,168.21 L150.77,168.65 L150.97,169.08 L151.18,169.49 L151.38,169.88 L151.59,170.24 L151.79,170.54 L152.00,170.80 L152.20,170.98 L152.41,171.09 L152.61,171.04 L152.81,170.89 L153.02,170.65 L153.22,170.36 L153.43,170.02 L153.63,169.63 L153.84,169.22 L154.05,168.79 L154.25,168.34 L154.46,167.89 L154.66,167.45 L154.87,167.02 L155.07,166.62 L155.28,166.24 L155.48,165.91 L155.69,165.61 L155.89,165.37 L156.09,165.18 L156.30,165.05 L156.50,164.98 L156.71,164.97 L156.91,165.02 L157.12,165.13 L157.32,165.29 L157.53,165.51 L157.74,165.79 L157.94,166.10 L158.15,166.46 L158.35,166.84 L158.56,167.26 L158.76,167.68 L158.97,168.12 L159.17,168.55 L159.38,168.98 L159.58,169.39 L159.78,169.76 L159.99,170.10 L160.19,170.39 L160.40,170.62 L160.60,170.78 L160.81,170.84 L161.01,170.74 L161.22,170.55 L161.43,170.30 L161.63,169.99 L161.84,169.63 L162.04,169.23 L162.25,168.81 L162.45,168.37 L162.66,167.92 L162.86,167.47 L163.06,167.03 L163.27,166.61 L163.47,166.22 L163.68,165.86 L163.88,165.54 L164.09,165.27 L164.29,165.04 L164.50,164.87 L164.70,164.76 L164.91,164.71 L165.12,164.72 L165.32,164.80 L165.53,164.93 L165.73,165.11 L165.94,165.35 L166.14,165.64 L166.34,165.97 L166.55,166.34 L166.75,166.74 L166.96,167.16 L167.16,167.59 L167.37,168.03 L167.57,168.46 L167.78,168.88 L167.99,169.27 L168.19,169.64 L168.39,169.96 L168.60,170.23" fill="none" stroke="#b4b4b4" stroke-width="1.35" stroke-linecap="round" stroke-linejoin="round"/>
<path d="M135.50,188.10 L136.01,186.22 L136.21,186.04 L136.42,185.79 L136.62,185.48 L136.83,185.13 L137.03,184.73 L137.24,184.31 L137.44,183.87 L137.65,183.43 L137.85,182.98 L138.06,182.54 L138.26,182.12 L138.47,181.72 L138.67,181.36 L138.88,181.03 L139.08,180.75 L139.28,180.52 L139.49,180.35 L139.70,180.23 L139.90,180.18 L140.11,180.18 L140.31,180.25 L140.52,180.37 L140.72,180.55 L140.93,180.79 L141.13,181.07 L141.34,181.40 L141.54,181.77 L141.75,182.16 L141.95,182.58 L142.16,183.01 L142.36,183.44 L142.56,183.88 L142.77,184.30 L142.97,184.70 L143.18,185.06 L143.39,185.39 L143.59,185.67 L143.80,185.88 L144.00,186.01 L144.21,186.03 L144.41,185.91 L144.62,185.70 L144.82,185.43 L145.03,185.10 L145.23,184.73 L145.44,184.33 L145.64,183.90 L145.84,183.46 L146.05,183.01 L146.25,182.56 L146.46,182.13 L146.67,181.71 L146.87,181.33 L147.08,180.98 L147.28,180.67 L147.49,180.41 L147.69,180.20 L147.90,180.05 L148.10,179.95 L148.31,179.92 L148.51,179.95 L148.72,180.03 L148.92,180.18 L149.12,180.38 L149.33,180.63 L149.53,180.93 L149.74,181.28 L149.94,181.65 L150.15,182.06 L150.36,182.48 L150.56,182.91 L150.77,183.35 L150.97,183.78 L151.18,184.19 L151.38,184.58 L151.59,184.94 L151.79,185.24 L152.00,185.50 L152.20,185.68 L152.41,185.79 L152.61,185.74 L152.81,185.59 L153.02,185.35 L153.22,185.06 L153.43,184.72 L153.63,184.33 L153.84,183.92 L154.05,183.49 L154.25,183.04 L154.46,182.59 L154.66,182.15 L154.87,181.72 L155.07,181.32 L155.28,180.94 L155.48,180.61 L155.69,180.31 L155.89,180.07 L156.09,179.88 L156.30,179.75 L156.50,179.68 L156.71,179.67 L156.91,179.72 L157.12,179.83 L157.32,179.99 L157.53,180.21 L157.74,180.49 L157.94,180.80 L158.15,181.16 L158.35,181.54 L158.56,181.96 L158.76,182.38 L158.97,182.82 L159.17,183.25 L159.38,183.68 L159.58,184.09 L159.78,184.46 L159.99,184.80 L160.19,185.09 L160.40,185.32 L160.60,185.48 L160.81,185.54 L161.01,185.44 L161.22,185.25 L161.43,185.00 L161.63,184.69 L161.84,184.33 L162.04,183.93 L162.25,183.51 L162.45,183.07 L162.66,182.62 L162.86,182.17 L163.06,181.73 L163.27,181.31 L163.47,180.92 L163.68,180.56 L163.88,180.24 L164.09,179.97 L164.29,179.74 L164.50,179.57 L164.70,179.46 L164.91,179.41 L165.12,179.42 L165.32,179.50 L165.53,179.63 L165.73,179.81 L165.94,180.05 L166.14,180.34 L166.34,180.67 L166.55,181.04 L166.75,181.44 L166.96,181.86 L167.16,182.29 L167.37,182.73 L167.57,183.16 L167.78,183.58 L167.99,183.97 L168.19,184.34 L168.39,184.66 L168.60,184.93" fill="none" stroke="#000" stroke-width="1.35" stroke-linecap="round" stroke-linejoin="round"/>
<path d="M130.30,206.40 L130.81,204.51 L131.01,204.33 L131.22,204.08 L131.43,203.76 L131.64,203.40 L131.84,203.00 L132.05,202.58 L132.26,202.13 L132.47,201.68 L132.67,201.22 L132.88,200.78 L133.09,200.36 L133.30,199.96 L133.50,199.60 L133.71,199.28 L133.92,199.00 L134.13,198.78 L134.34,198.62 L134.54,198.52 L134.75,198.48 L134.96,198.50 L135.16,198.58 L135.37,198.72 L135.58,198.92 L135.79,199.17 L136.00,199.48 L136.20,199.82 L136.41,200.20 L136.62,200.61 L136.82,201.04 L137.03,201.48 L137.24,201.92 L137.45,202.35 L137.66,202.77 L137.86,203.16 L138.07,203.52 L138.28,203.82 L138.48,204.08 L138.69,204.26 L138.90,204.35 L139.11,204.28 L139.31,204.11 L139.52,203.87 L139.73,203.56 L139.94,203.21 L140.15,202.81 L140.35,202.39 L140.56,201.95 L140.77,201.49 L140.97,201.04 L141.18,200.59 L141.39,200.17 L141.60,199.77 L141.81,199.40 L142.01,199.07 L142.22,198.79 L142.43,198.56 L142.63,198.39 L142.84,198.28 L143.05,198.23 L143.26,198.24 L143.47,198.31 L143.67,198.45 L143.88,198.64 L144.09,198.88 L144.30,199.18 L144.50,199.52 L144.71,199.89 L144.92,200.30 L145.12,200.72 L145.33,201.16 L145.54,201.60 L145.75,202.04 L145.96,202.46 L146.16,202.86 L146.37,203.22 L146.58,203.53 L146.78,203.79 L146.99,203.99 L147.20,204.09 L147.41,204.05 L147.62,203.89 L147.82,203.66 L148.03,203.36 L148.24,203.01 L148.44,202.62 L148.65,202.20 L148.86,201.76 L149.07,201.31 L149.28,200.85 L149.48,200.41 L149.69,199.98 L149.90,199.57 L150.11,199.20 L150.31,198.86 L150.52,198.58 L150.73,198.34 L150.94,198.16 L151.14,198.04 L151.35,197.98 L151.56,197.98 L151.77,198.05 L151.97,198.17 L152.18,198.35 L152.39,198.59 L152.59,198.88 L152.80,199.21 L153.01,199.58 L153.22,199.99 L153.43,200.41 L153.63,200.85 L153.84,201.29 L154.05,201.73 L154.25,202.15 L154.46,202.55 L154.67,202.92 L154.88,203.24 L155.09,203.51 L155.29,203.71 L155.50,203.83 L155.71,203.81 L155.92,203.67 L156.12,203.44 L156.33,203.15 L156.54,202.81 L156.75,202.43 L156.95,202.01 L157.16,201.57 L157.37,201.12 L157.58,200.67 L157.78,200.22 L157.99,199.79 L158.20,199.38 L158.41,199.00 L158.61,198.66 L158.82,198.36 L159.03,198.12 L159.24,197.93 L159.44,197.80 L159.65,197.73 L159.86,197.73 L160.06,197.78 L160.27,197.90 L160.48,198.07 L160.69,198.30 L160.90,198.59 L161.10,198.91 L161.31,199.28 L161.52,199.67 L161.73,200.10 L161.93,200.53 L162.14,200.97 L162.35,201.41 L162.56,201.84 L162.76,202.24 L162.97,202.61 L163.18,202.94 L163.39,203.22 L163.59,203.44 L163.80,203.57" fill="none" stroke="#4472c4" stroke-width="1.35" stroke-linecap="round" stroke-linejoin="round"/>
<path d="M130.30,219.70 L130.81,217.81 L131.01,217.63 L131.22,217.38 L131.43,217.06 L131.64,216.70 L131.84,216.30 L132.05,215.88 L132.26,215.43 L132.47,214.98 L132.67,214.52 L132.88,214.08 L133.09,213.66 L133.30,213.26 L133.50,212.90 L133.71,212.58 L133.92,212.30 L134.13,212.08 L134.34,211.92 L134.54,211.82 L134.75,211.78 L134.96,211.80 L135.16,211.88 L135.37,212.02 L135.58,212.22 L135.79,212.47 L136.00,212.78 L136.20,213.12 L136.41,213.50 L136.62,213.91 L136.82,214.34 L137.03,214.78 L137.24,215.22 L137.45,215.65 L137.66,216.07 L137.86,216.46 L138.07,216.82 L138.28,217.12 L138.48,217.38 L138.69,217.56 L138.90,217.65 L139.11,217.58 L139.31,217.41 L139.52,217.17 L139.73,216.86 L139.94,216.51 L140.15,216.11 L140.35,215.69 L140.56,215.25 L140.77,214.79 L140.97,214.34 L141.18,213.89 L141.39,213.47 L141.60,213.07 L141.81,212.70 L142.01,212.37 L142.22,212.09 L142.43,211.86 L142.63,211.69 L142.84,211.58 L143.05,211.53 L143.26,211.54 L143.47,211.61 L143.67,211.75 L143.88,211.94 L144.09,212.18 L144.30,212.48 L144.50,212.82 L144.71,213.19 L144.92,213.60 L145.12,214.02 L145.33,214.46 L145.54,214.90 L145.75,215.34 L145.96,215.76 L146.16,216.16 L146.37,216.52 L146.58,216.83 L146.78,217.09 L146.99,217.29 L147.20,217.39 L147.41,217.35 L147.62,217.19 L147.82,216.96 L148.03,216.66 L148.24,216.31 L148.44,215.92 L148.65,215.50 L148.86,215.06 L149.07,214.61 L149.28,214.15 L149.48,213.71 L149.69,213.28 L149.90,212.87 L150.11,212.50 L150.31,212.16 L150.52,211.88 L150.73,211.64 L150.94,211.46 L151.14,211.34 L151.35,211.28 L151.56,211.28 L151.77,211.35 L151.97,211.47 L152.18,211.65 L152.39,211.89 L152.59,212.18 L152.80,212.51 L153.01,212.88 L153.22,213.29 L153.43,213.71 L153.63,214.15 L153.84,214.59 L154.05,215.03 L154.25,215.45 L154.46,215.85 L154.67,216.22 L154.88,216.54 L155.09,216.81 L155.29,217.01 L155.50,217.13 L155.71,217.11 L155.92,216.97 L156.12,216.74 L156.33,216.45 L156.54,216.11 L156.75,215.73 L156.95,215.31 L157.16,214.87 L157.37,214.42 L157.58,213.97 L157.78,213.52 L157.99,213.09 L158.20,212.68 L158.41,212.30 L158.61,211.96 L158.82,211.66 L159.03,211.42 L159.24,211.23 L159.44,211.10 L159.65,211.03 L159.86,211.03 L160.06,211.08 L160.27,211.20 L160.48,211.37 L160.69,211.60 L160.90,211.89 L161.10,212.21 L161.31,212.58 L161.52,212.97 L161.73,213.40 L161.93,213.83 L162.14,214.27 L162.35,214.71 L162.56,215.14 L162.76,215.54 L162.97,215.91 L163.18,216.24 L163.39,216.52 L163.59,216.74 L163.80,216.87" fill="none" stroke="#ffc000" stroke-width="1.35" stroke-linecap="round" stroke-linejoin="round"/>
<path d="M130.30,234.10 L130.81,232.21 L131.01,232.03 L131.22,231.78 L131.43,231.46 L131.64,231.10 L131.84,230.70 L132.05,230.28 L132.26,229.83 L132.47,229.38 L132.67,228.92 L132.88,228.48 L133.09,228.06 L133.30,227.66 L133.50,227.30 L133.71,226.98 L133.92,226.70 L134.13,226.48 L134.34,226.32 L134.54,226.22 L134.75,226.18 L134.96,226.20 L135.16,226.28 L135.37,226.42 L135.58,226.62 L135.79,226.87 L136.00,227.18 L136.20,227.52 L136.41,227.90 L136.62,228.31 L136.82,228.74 L137.03,229.18 L137.24,229.62 L137.45,230.05 L137.66,230.47 L137.86,230.86 L138.07,231.22 L138.28,231.52 L138.48,231.78 L138.69,231.96 L138.90,232.05 L139.11,231.98 L139.31,231.81 L139.52,231.57 L139.73,231.26 L139.94,230.91 L140.15,230.51 L140.35,230.09 L140.56,229.65 L140.77,229.19 L140.97,228.74 L141.18,228.29 L141.39,227.87 L141.60,227.47 L141.81,227.10 L142.01,226.77 L142.22,226.49 L142.43,226.26 L142.63,226.09 L142.84,225.98 L143.05,225.93 L143.26,225.94 L143.47,226.01 L143.67,226.15 L143.88,226.34 L144.09,226.58 L144.30,226.88 L144.50,227.22 L144.71,227.59 L144.92,228.00 L145.12,228.42 L145.33,228.86 L145.54,229.30 L145.75,229.74 L145.96,230.16 L146.16,230.56 L146.37,230.92 L146.58,231.23 L146.78,231.49 L146.99,231.69 L147.20,231.79 L147.41,231.75 L147.62,231.59 L147.82,231.36 L148.03,231.06 L148.24,230.71 L148.44,230.32 L148.65,229.90 L148.86,229.46 L149.07,229.01 L149.28,228.55 L149.48,228.11 L149.69,227.68 L149.90,227.27 L150.11,226.90 L150.31,226.56 L150.52,226.28 L150.73,226.04 L150.94,225.86 L151.14,225.74 L151.35,225.68 L151.56,225.68 L151.77,225.75 L151.97,225.87 L152.18,226.05 L152.39,226.29 L152.59,226.58 L152.80,226.91 L153.01,227.28 L153.22,227.69 L153.43,228.11 L153.63,228.55 L153.84,228.99 L154.05,229.43 L154.25,229.85 L154.46,230.25 L154.67,230.62 L154.88,230.94 L155.09,231.21 L155.29,231.41 L155.50,231.53 L155.71,231.51 L155.92,231.37 L156.12,231.14 L156.33,230.85 L156.54,230.51 L156.75,230.13 L156.95,229.71 L157.16,229.27 L157.37,228.82 L157.58,228.37 L157.78,227.92 L157.99,227.49 L158.20,227.08 L158.41,226.70 L158.61,226.36 L158.82,226.06 L159.03,225.82 L159.24,225.63 L159.44,225.50 L159.65,225.43 L159.86,225.43 L160.06,225.48 L160.27,225.60 L160.48,225.77 L160.69,226.00 L160.90,226.29 L161.10,226.61 L161.31,226.98 L161.52,227.37 L161.73,227.80 L161.93,228.23 L162.14,228.67 L162.35,229.11 L162.56,229.54 L162.76,229.94 L162.97,230.31 L163.18,230.64 L163.39,230.92 L163.59,231.14 L163.80,231.27" fill="none" stroke="#d02020" stroke-width="1.35" stroke-linecap="round" stroke-linejoin="round"/>
<path d="M130.30,247.60 L130.81,245.71 L131.01,245.53 L131.22,245.28 L131.43,244.96 L131.64,244.60 L131.84,244.20 L132.05,243.78 L132.26,243.33 L132.47,242.88 L132.67,242.42 L132.88,241.98 L133.09,241.56 L133.30,241.16 L133.50,240.80 L133.71,240.48 L133.92,240.20 L134.13,239.98 L134.34,239.82 L134.54,239.72 L134.75,239.68 L134.96,239.70 L135.16,239.78 L135.37,239.92 L135.58,240.12 L135.79,240.37 L136.00,240.68 L136.20,241.02 L136.41,241.40 L136.62,241.81 L136.82,242.24 L137.03,242.68 L137.24,243.12 L137.45,243.55 L137.66,243.97 L137.86,244.36 L138.07,244.72 L138.28,245.02 L138.48,245.28 L138.69,245.46 L138.90,245.55 L139.11,245.48 L139.31,245.31 L139.52,245.07 L139.73,244.76 L139.94,244.41 L140.15,244.01 L140.35,243.59 L140.56,243.15 L140.77,242.69 L140.97,242.24 L141.18,241.79 L141.39,241.37 L141.60,240.97 L141.81,240.60 L142.01,240.27 L142.22,239.99 L142.43,239.76 L142.63,239.59 L142.84,239.48 L143.05,239.43 L143.26,239.44 L143.47,239.51 L143.67,239.65 L143.88,239.84 L144.09,240.08 L144.30,240.38 L144.50,240.72 L144.71,241.09 L144.92,241.50 L145.12,241.92 L145.33,242.36 L145.54,242.80 L145.75,243.24 L145.96,243.66 L146.16,244.06 L146.37,244.42 L146.58,244.73 L146.78,244.99 L146.99,245.19 L147.20,245.29 L147.41,245.25 L147.62,245.09 L147.82,244.86 L148.03,244.56 L148.24,244.21 L148.44,243.82 L148.65,243.40 L148.86,242.96 L149.07,242.51 L149.28,242.05 L149.48,241.61 L149.69,241.18 L149.90,240.77 L150.11,240.40 L150.31,240.06 L150.52,239.78 L150.73,239.54 L150.94,239.36 L151.14,239.24 L151.35,239.18 L151.56,239.18 L151.77,239.25 L151.97,239.37 L152.18,239.55 L152.39,239.79 L152.59,240.08 L152.80,240.41 L153.01,240.78 L153.22,241.19 L153.43,241.61 L153.63,242.05 L153.84,242.49 L154.05,242.93 L154.25,243.35 L154.46,243.75 L154.67,244.12 L154.88,244.44 L155.09,244.71 L155.29,244.91 L155.50,245.03 L155.71,245.01 L155.92,244.87 L156.12,244.64 L156.33,244.35 L156.54,244.01 L156.75,243.63 L156.95,243.21 L157.16,242.77 L157.37,242.32 L157.58,241.87 L157.78,241.42 L157.99,240.99 L158.20,240.58 L158.41,240.20 L158.61,239.86 L158.82,239.56 L159.03,239.32 L159.24,239.13 L159.44,239.00 L159.65,238.93 L159.86,238.93 L160.06,238.98 L160.27,239.10 L160.48,239.27 L160.69,239.50 L160.90,239.79 L161.10,240.11 L161.31,240.48 L161.52,240.87 L161.73,241.30 L161.93,241.73 L162.14,242.17 L162.35,242.61 L162.56,243.04 L162.76,243.44 L162.97,243.81 L163.18,244.14 L163.39,244.42 L163.59,244.64 L163.80,244.77" fill="none" stroke="#00b050" stroke-width="1.35" stroke-linecap="round" stroke-linejoin="round"/>
<path d="M130.30,261.10 L130.81,259.21 L131.01,259.03 L131.22,258.78 L131.43,258.46 L131.64,258.10 L131.84,257.70 L132.05,257.28 L132.26,256.83 L132.47,256.38 L132.67,255.92 L132.88,255.48 L133.09,255.06 L133.30,254.66 L133.50,254.30 L133.71,253.98 L133.92,253.70 L134.13,253.48 L134.34,253.32 L134.54,253.22 L134.75,253.18 L134.96,253.20 L135.16,253.28 L135.37,253.42 L135.58,253.62 L135.79,253.87 L136.00,254.18 L136.20,254.52 L136.41,254.90 L136.62,255.31 L136.82,255.74 L137.03,256.18 L137.24,256.62 L137.45,257.05 L137.66,257.47 L137.86,257.86 L138.07,258.22 L138.28,258.52 L138.48,258.78 L138.69,258.96 L138.90,259.05 L139.11,258.98 L139.31,258.81 L139.52,258.57 L139.73,258.26 L139.94,257.91 L140.15,257.51 L140.35,257.09 L140.56,256.65 L140.77,256.19 L140.97,255.74 L141.18,255.29 L141.39,254.87 L141.60,254.47 L141.81,254.10 L142.01,253.77 L142.22,253.49 L142.43,253.26 L142.63,253.09 L142.84,252.98 L143.05,252.93 L143.26,252.94 L143.47,253.01 L143.67,253.15 L143.88,253.34 L144.09,253.58 L144.30,253.88 L144.50,254.22 L144.71,254.59 L144.92,255.00 L145.12,255.42 L145.33,255.86 L145.54,256.30 L145.75,256.74 L145.96,257.16 L146.16,257.56 L146.37,257.92 L146.58,258.23 L146.78,258.49 L146.99,258.69 L147.20,258.79 L147.41,258.75 L147.62,258.59 L147.82,258.36 L148.03,258.06 L148.24,257.71 L148.44,257.32 L148.65,256.90 L148.86,256.46 L149.07,256.01 L149.28,255.55 L149.48,255.11 L149.69,254.68 L149.90,254.27 L150.11,253.90 L150.31,253.56 L150.52,253.28 L150.73,253.04 L150.94,252.86 L151.14,252.74 L151.35,252.68 L151.56,252.68 L151.77,252.75 L151.97,252.87 L152.18,253.05 L152.39,253.29 L152.59,253.58 L152.80,253.91 L153.01,254.28 L153.22,254.69 L153.43,255.11 L153.63,255.55 L153.84,255.99 L154.05,256.43 L154.25,256.85 L154.46,257.25 L154.67,257.62 L154.88,257.94 L155.09,258.21 L155.29,258.41 L155.50,258.53 L155.71,258.51 L155.92,258.37 L156.12,258.14 L156.33,257.85 L156.54,257.51 L156.75,257.13 L156.95,256.71 L157.16,256.27 L157.37,255.82 L157.58,255.37 L157.78,254.92 L157.99,254.49 L158.20,254.08 L158.41,253.70 L158.61,253.36 L158.82,253.06 L159.03,252.82 L159.24,252.63 L159.44,252.50 L159.65,252.43 L159.86,252.43 L160.06,252.48 L160.27,252.60 L160.48,252.77 L160.69,253.00 L160.90,253.29 L161.10,253.61 L161.31,253.98 L161.52,254.37 L161.73,254.80 L161.93,255.23 L162.14,255.67 L162.35,256.11 L162.56,256.54 L162.76,256.94 L162.97,257.31 L163.18,257.64 L163.39,257.92 L163.59,258.14 L163.80,258.27" fill="none" stroke="#b4b4b4" stroke-width="1.35" stroke-linecap="round" stroke-linejoin="round"/>
<path d="M130.30,275.70 L130.81,273.81 L131.01,273.63 L131.22,273.38 L131.43,273.06 L131.64,272.70 L131.84,272.30 L132.05,271.88 L132.26,271.43 L132.47,270.98 L132.67,270.52 L132.88,270.08 L133.09,269.66 L133.30,269.26 L133.50,268.90 L133.71,268.58 L133.92,268.30 L134.13,268.08 L134.34,267.92 L134.54,267.82 L134.75,267.78 L134.96,267.80 L135.16,267.88 L135.37,268.02 L135.58,268.22 L135.79,268.47 L136.00,268.78 L136.20,269.12 L136.41,269.50 L136.62,269.91 L136.82,270.34 L137.03,270.78 L137.24,271.22 L137.45,271.65 L137.66,272.07 L137.86,272.46 L138.07,272.82 L138.28,273.12 L138.48,273.38 L138.69,273.56 L138.90,273.65 L139.11,273.58 L139.31,273.41 L139.52,273.17 L139.73,272.86 L139.94,272.51 L140.15,272.11 L140.35,271.69 L140.56,271.25 L140.77,270.79 L140.97,270.34 L141.18,269.89 L141.39,269.47 L141.60,269.07 L141.81,268.70 L142.01,268.37 L142.22,268.09 L142.43,267.86 L142.63,267.69 L142.84,267.58 L143.05,267.53 L143.26,267.54 L143.47,267.61 L143.67,267.75 L143.88,267.94 L144.09,268.18 L144.30,268.48 L144.50,268.82 L144.71,269.19 L144.92,269.60 L145.12,270.02 L145.33,270.46 L145.54,270.90 L145.75,271.34 L145.96,271.76 L146.16,272.16 L146.37,272.52 L146.58,272.83 L146.78,273.09 L146.99,273.29 L147.20,273.39 L147.41,273.35 L147.62,273.19 L147.82,272.96 L148.03,272.66 L148.24,272.31 L148.44,271.92 L148.65,271.50 L148.86,271.06 L149.07,270.61 L149.28,270.15 L149.48,269.71 L149.69,269.28 L149.90,268.87 L150.11,268.50 L150.31,268.16 L150.52,267.88 L150.73,267.64 L150.94,267.46 L151.14,267.34 L151.35,267.28 L151.56,267.28 L151.77,267.35 L151.97,267.47 L152.18,267.65 L152.39,267.89 L152.59,268.18 L152.80,268.51 L153.01,268.88 L153.22,269.29 L153.43,269.71 L153.63,270.15 L153.84,270.59 L154.05,271.03 L154.25,271.45 L154.46,271.85 L154.67,272.22 L154.88,272.54 L155.09,272.81 L155.29,273.01 L155.50,273.13 L155.71,273.11 L155.92,272.97 L156.12,272.74 L156.33,272.45 L156.54,272.11 L156.75,271.73 L156.95,271.31 L157.16,270.87 L157.37,270.42 L157.58,269.97 L157.78,269.52 L157.99,269.09 L158.20,268.68 L158.41,268.30 L158.61,267.96 L158.82,267.66 L159.03,267.42 L159.24,267.23 L159.44,267.10 L159.65,267.03 L159.86,267.03 L160.06,267.08 L160.27,267.20 L160.48,267.37 L160.69,267.60 L160.90,267.89 L161.10,268.21 L161.31,268.58 L161.52,268.97 L161.73,269.40 L161.93,269.83 L162.14,270.27 L162.35,270.71 L162.56,271.14 L162.76,271.54 L162.97,271.91 L163.18,272.24 L163.39,272.52 L163.59,272.74 L163.80,272.87" fill="none" stroke="#000" stroke-width="1.35" stroke-linecap="round" stroke-linejoin="round"/>
<path d="M167.3,39.3 L170.5,39.3 Q172.5,39.3 172.5,41.3 L172.5,54.4 Q172.5,56.4 170.5,56.4 L167.3,56.4" fill="none" stroke="#1a1a1a" stroke-width="1.2"/>
<line x1="172.5" y1="47.849999999999994" x2="177.8" y2="47.849999999999994" stroke="#1a1a1a" stroke-width="1.6"/>
<path d="M167.3,61.0 L170.5,61.0 Q172.5,61.0 172.5,63.0 L172.5,76.0 Q172.5,78.0 170.5,78.0 L167.3,78.0" fill="none" stroke="#1a1a1a" stroke-width="1.2"/>
<line x1="172.5" y1="69.5" x2="177.8" y2="69.5" stroke="#1a1a1a" stroke-width="1.6"/>
<path d="M167.3,82.0 L170.5,82.0 Q172.5,82.0 172.5,84.0 L172.5,96.5 Q172.5,98.5 170.5,98.5 L167.3,98.5" fill="none" stroke="#1a1a1a" stroke-width="1.2"/>
<line x1="172.5" y1="90.25" x2="177.8" y2="90.25" stroke="#1a1a1a" stroke-width="1.6"/>
<path d="M171.0,196.0 L174.0,196.0 Q176.0,196.0 176.0,198.0 L176.0,272.5 Q176.0,274.5 174.0,274.5 L171.0,274.5" fill="none" stroke="#1a1a1a" stroke-width="1.4"/>
<line x1="176.0" y1="235.25" x2="181.0" y2="235.25" stroke="#1a1a1a" stroke-width="1.6"/>
<path d="M179.0,46.3 L191.3,46.3 L191.3,43.949999999999996 L196.0,48.3 L191.3,52.65 L191.3,50.3 L179.0,50.3 Z" fill="#fff" stroke="#9a9a9a" stroke-width="0.9" stroke-linejoin="miter"/>
<path d="M179.0,67.5 L191.3,67.5 L191.3,65.15 L196.0,69.5 L191.3,73.85 L191.3,71.5 L179.0,71.5 Z" fill="#fff" stroke="#9a9a9a" stroke-width="0.9" stroke-linejoin="miter"/>
<path d="M179.0,88.5 L191.3,88.5 L191.3,86.15 L196.0,90.5 L191.3,94.85 L191.3,92.5 L179.0,92.5 Z" fill="#fff" stroke="#9a9a9a" stroke-width="0.9" stroke-linejoin="miter"/>
<path d="M179.0,111.3 L191.3,111.3 L191.3,108.95 L196.0,113.3 L191.3,117.64999999999999 L191.3,115.3 L179.0,115.3 Z" fill="#fff" stroke="#9a9a9a" stroke-width="0.9" stroke-linejoin="miter"/>
<path d="M179.0,124.9 L191.3,124.9 L191.3,122.55000000000001 L196.0,126.9 L191.3,131.25 L191.3,128.9 L179.0,128.9 Z" fill="#fff" stroke="#9a9a9a" stroke-width="0.9" stroke-linejoin="miter"/>
<path d="M179.0,139.0 L191.3,139.0 L191.3,136.65 L196.0,141.0 L191.3,145.35 L191.3,143.0 L179.0,143.0 Z" fill="#fff" stroke="#9a9a9a" stroke-width="0.9" stroke-linejoin="miter"/>
<path d="M179.0,152.6 L191.3,152.6 L191.3,150.25 L196.0,154.6 L191.3,158.95 L191.3,156.6 L179.0,156.6 Z" fill="#fff" stroke="#9a9a9a" stroke-width="0.9" stroke-linejoin="miter"/>
<path d="M179.0,166.3 L191.3,166.3 L191.3,163.95000000000002 L196.0,168.3 L191.3,172.65 L191.3,170.3 L179.0,170.3 Z" fill="#fff" stroke="#9a9a9a" stroke-width="0.9" stroke-linejoin="miter"/>
<path d="M179.0,181.0 L191.3,181.0 L191.3,178.65 L196.0,183.0 L191.3,187.35 L191.3,185.0 L179.0,185.0 Z" fill="#fff" stroke="#9a9a9a" stroke-width="0.9" stroke-linejoin="miter"/>
<path d="M183.0,233.3 L195.3,233.3 L195.3,231.10000000000002 L199.5,235.3 L195.3,239.5 L195.3,237.3 L183.0,237.3 Z" fill="#fff" stroke="#9a9a9a" stroke-width="0.9" stroke-linejoin="miter"/>
<rect x="203.00" y="44.00" width="9.2" height="9.1" fill="#ff5a5a"/>
<rect x="213.43" y="44.00" width="9.2" height="9.1" fill="#0000f0"/>
<rect x="223.86" y="44.00" width="9.2" height="9.1" fill="#0000f0"/>
<rect x="234.29" y="44.00" width="9.2" height="9.1" fill="#ff0000"/>
<rect x="244.72" y="44.00" width="9.2" height="9.1" fill="#ff7a7a"/>
<rect x="255.15" y="44.00" width="9.2" height="9.1" fill="#2222f0"/>
<rect x="203.00" y="65.30" width="9.2" height="9.1" fill="#ffc0c8"/>
<rect x="213.43" y="65.30" width="9.2" height="9.1" fill="#0000f0"/>
<rect x="223.86" y="65.30" width="9.2" height="9.1" fill="#0000f0"/>
<rect x="234.29" y="65.30" width="9.2" height="9.1" fill="#ff0000"/>
<rect x="244.72" y="65.30" width="9.2" height="9.1" fill="#ffe2e6"/>
<rect x="255.15" y="65.30" width="9.2" height="9.1" fill="#5a5af0"/>
<rect x="203.00" y="86.20" width="9.2" height="9.4" fill="#b03434"/>
<rect x="213.43" y="86.20" width="9.2" height="9.4" fill="#0000a6"/>
<rect x="223.86" y="86.20" width="9.2" height="9.4" fill="#0000a6"/>
<rect x="234.29" y="86.20" width="9.2" height="9.4" fill="#c00000"/>
<rect x="244.72" y="86.20" width="9.2" height="9.4" fill="#b04a4a"/>
<rect x="255.15" y="86.20" width="9.2" height="9.4" fill="#1212a8"/>
<rect x="201.50" y="108.60" width="9.4" height="9.6" fill="#ff5a5a"/>
<rect x="211.97" y="108.60" width="9.4" height="9.6" fill="#0000f0"/>
<rect x="222.44" y="108.60" width="9.4" height="9.6" fill="#0000f0"/>
<rect x="232.91" y="108.60" width="9.4" height="9.6" fill="#ff0000"/>
<rect x="243.38" y="108.60" width="9.4" height="9.6" fill="#ff7a7a"/>
<rect x="253.85" y="108.60" width="9.4" height="9.6" fill="#0000f0"/>
<rect x="201.50" y="122.60" width="9.4" height="9.6" fill="#ffc0c8"/>
<rect x="211.97" y="122.60" width="9.4" height="9.6" fill="#0000f0"/>
<rect x="222.44" y="122.60" width="9.4" height="9.6" fill="#0000f0"/>
<rect x="232.91" y="122.60" width="9.4" height="9.6" fill="#ff0000"/>
<rect x="243.38" y="122.60" width="9.4" height="9.6" fill="#ffe2e6"/>
<rect x="253.85" y="122.60" width="9.4" height="9.6" fill="#6a6af0"/>
<rect x="201.50" y="137.00" width="9.4" height="9.6" fill="#a82828"/>
<rect x="211.97" y="137.00" width="9.4" height="9.6" fill="#00009e"/>
<rect x="222.44" y="137.00" width="9.4" height="9.6" fill="#00009e"/>
<rect x="232.91" y="137.00" width="9.4" height="9.6" fill="#a80000"/>
<rect x="243.38" y="137.00" width="9.4" height="9.6" fill="#a84848"/>
<rect x="253.85" y="137.00" width="9.4" height="9.6" fill="#10109a"/>
<rect x="201.50" y="150.70" width="9.4" height="9.6" fill="#ff5a5a"/>
<rect x="211.97" y="150.70" width="9.4" height="9.6" fill="#0000f0"/>
<rect x="222.44" y="150.70" width="9.4" height="9.6" fill="#0000f0"/>
<rect x="232.91" y="150.70" width="9.4" height="9.6" fill="#ff0000"/>
<rect x="243.38" y="150.70" width="9.4" height="9.6" fill="#ff7a7a"/>
<rect x="253.85" y="150.70" width="9.4" height="9.6" fill="#0000f0"/>
<rect x="201.50" y="164.60" width="9.4" height="9.6" fill="#ffd8dc"/>
<rect x="211.97" y="164.60" width="9.4" height="9.6" fill="#0000f0"/>
<rect x="222.44" y="164.60" width="9.4" height="9.6" fill="#0000f0"/>
<rect x="232.91" y="164.60" width="9.4" height="9.6" fill="#ff0000"/>
<rect x="253.85" y="164.60" width="9.4" height="9.6" fill="#7878f0"/>
<rect x="201.50" y="178.60" width="9.4" height="9.6" fill="#962424"/>
<rect x="211.97" y="178.60" width="9.4" height="9.6" fill="#00009e"/>
<rect x="222.44" y="178.60" width="9.4" height="9.6" fill="#00009e"/>
<rect x="232.91" y="178.60" width="9.4" height="9.6" fill="#960000"/>
<rect x="243.38" y="178.60" width="9.4" height="9.6" fill="#a84848"/>
<rect x="253.85" y="178.60" width="9.4" height="9.6" fill="#10108a"/>
<rect x="202.00" y="230.80" width="9.4" height="9.3" fill="#ff5a5a"/>
<rect x="212.30" y="230.80" width="9.4" height="9.3" fill="#0000f0"/>
<rect x="222.60" y="230.80" width="9.4" height="9.3" fill="#0000f0"/>
<rect x="232.90" y="230.80" width="9.4" height="9.3" fill="#ff0000"/>
<rect x="243.20" y="230.80" width="9.4" height="9.3" fill="#ff7a7a"/>
<rect x="253.50" y="230.80" width="9.4" height="9.3" fill="#0000f0"/>
<circle cx="361.6" cy="84.0" r="46.5" fill="rgba(68,114,196,0.6)" stroke="rgba(40,70,130,0.5)" stroke-width="0.6"/>
<circle cx="324.5" cy="84.5" r="45.0" fill="rgba(255,0,0,0.6)" stroke="rgba(150,30,40,0.4)" stroke-width="0.6"/>
<circle cx="490.5" cy="78.0" r="55.0" fill="rgba(0,176,80,0.6)" stroke="rgba(40,110,80,0.5)" stroke-width="0.6"/>
<circle cx="490.7" cy="99.7" r="39.6" fill="rgba(68,114,196,0.6)" stroke="rgba(40,70,130,0.5)" stroke-width="0.6"/>
<circle cx="453.5" cy="101.2" r="36.6" fill="rgba(255,0,0,0.6)" stroke="rgba(150,30,40,0.4)" stroke-width="0.6"/>
<circle cx="353.4" cy="223.4" r="54.9" fill="rgba(0,176,80,0.6)" stroke="rgba(40,110,80,0.5)" stroke-width="0.6"/>
<circle cx="354.8" cy="246.3" r="41.4" fill="rgba(68,114,196,0.6)" stroke="rgba(40,70,130,0.5)" stroke-width="0.6"/>
<circle cx="320.9" cy="246.7" r="41.7" fill="rgba(255,0,0,0.6)" stroke="rgba(150,30,40,0.4)" stroke-width="0.6"/>
<circle cx="489.0" cy="226.6" r="56.5" fill="rgba(0,176,80,0.6)" stroke="rgba(40,110,80,0.5)" stroke-width="0.6"/>
<circle cx="492.2" cy="250.6" r="39.3" fill="rgba(68,114,196,0.6)" stroke="rgba(40,70,130,0.5)" stroke-width="0.6"/>
<circle cx="461.7" cy="249.9" r="42.6" fill="rgba(255,0,0,0.6)" stroke="rgba(150,30,40,0.4)" stroke-width="0.6"/>
<circle cx="93.9" cy="373.0" r="42.0" fill="rgba(0,176,80,0.6)" stroke="rgba(40,110,80,0.5)" stroke-width="0.6"/>
<circle cx="95.0" cy="396.2" r="32.0" fill="rgba(68,114,196,0.6)" stroke="rgba(40,70,130,0.5)" stroke-width="0.6"/>
<circle cx="54.0" cy="396.0" r="51.0" fill="rgba(255,0,0,0.6)" stroke="rgba(150,30,40,0.4)" stroke-width="0.6"/>
<circle cx="223.8" cy="378.5" r="47.0" fill="rgba(0,176,80,0.6)" stroke="rgba(40,110,80,0.5)" stroke-width="0.6"/>
<circle cx="229.0" cy="400.0" r="35.0" fill="rgba(68,114,196,0.6)" stroke="rgba(40,70,130,0.5)" stroke-width="0.6"/>
<circle cx="191.7" cy="400.5" r="51.5" fill="rgba(255,0,0,0.6)" stroke="rgba(150,30,40,0.4)" stroke-width="0.6"/>
<circle cx="356.4" cy="386.0" r="50.5" fill="rgba(0,176,80,0.6)" stroke="rgba(40,110,80,0.5)" stroke-width="0.6"/>
<circle cx="357.8" cy="408.6" r="36.5" fill="rgba(68,114,196,0.6)" stroke="rgba(40,70,130,0.5)" stroke-width="0.6"/>
<circle cx="322.4" cy="408.3" r="45.2" fill="rgba(255,0,0,0.6)" stroke="rgba(150,30,40,0.4)" stroke-width="0.6"/>
<circle cx="489.2" cy="391.4" r="53.5" fill="rgba(0,176,80,0.6)" stroke="rgba(40,110,80,0.5)" stroke-width="0.6"/>
<circle cx="490.0" cy="413.5" r="38.5" fill="rgba(68,114,196,0.6)" stroke="rgba(40,70,130,0.5)" stroke-width="0.6"/>
<circle cx="458.7" cy="413.5" r="44.3" fill="rgba(255,0,0,0.6)" stroke="rgba(150,30,40,0.4)" stroke-width="0.6"/>
<text x="10.90" y="14.20" font-size="11.3" font-weight="bold" fill="#000" stroke="#000" stroke-width="0.35" textLength="7.12" lengthAdjust="spacingAndGlyphs">A</text>
<text x="276.50" y="14.30" font-size="10.87" font-weight="bold" fill="#000" stroke="#000" stroke-width="0.35" textLength="6.42" lengthAdjust="spacingAndGlyphs">B</text>
<text x="315.00" y="14.40" font-size="10.43" font-weight="bold" fill="#000" stroke="#000" stroke-width="0.35" textLength="52.61" lengthAdjust="spacingAndGlyphs">FDR &lt; 0.05</text>
<text x="412.60" y="14.50" font-size="10.87" font-weight="bold" fill="#000" stroke="#000" stroke-width="0.35" textLength="6.62" lengthAdjust="spacingAndGlyphs">C</text>
<text x="445.30" y="15.00" font-size="10.58" font-weight="bold" fill="#000" stroke="#000" stroke-width="0.35" textLength="72.04" lengthAdjust="spacingAndGlyphs">500% Increase</text>
<text x="276.10" y="161.40" font-size="10.87" font-weight="bold" fill="#000" stroke="#000" stroke-width="0.35" textLength="7.42" lengthAdjust="spacingAndGlyphs">D</text>
<text x="308.80" y="161.60" font-size="10.58" font-weight="bold" fill="#000" stroke="#000" stroke-width="0.35" textLength="71.44" lengthAdjust="spacingAndGlyphs">200% Increase</text>
<text x="412.70" y="161.20" font-size="10.58" font-weight="bold" fill="#000" stroke="#000" stroke-width="0.35" textLength="4.98" lengthAdjust="spacingAndGlyphs">E</text>
<text x="447.50" y="161.40" font-size="10.58" font-weight="bold" fill="#000" stroke="#000" stroke-width="0.35" textLength="71.84" lengthAdjust="spacingAndGlyphs">150% Increase</text>
<text x="5.40" y="311.90" font-size="11.16" font-weight="bold" fill="#000" stroke="#000" stroke-width="0.35" textLength="4.91" lengthAdjust="spacingAndGlyphs">F</text>
<text x="24.00" y="312.50" font-size="10.87" font-weight="bold" fill="#000" stroke="#000" stroke-width="0.35" textLength="85.24" lengthAdjust="spacingAndGlyphs">3 STDEV Increase</text>
<text x="144.20" y="312.10" font-size="10.87" font-weight="bold" fill="#000" stroke="#000" stroke-width="0.35" textLength="7.88" lengthAdjust="spacingAndGlyphs">G</text>
<text x="168.70" y="312.40" font-size="10.72" font-weight="bold" fill="#000" stroke="#000" stroke-width="0.35" textLength="85.54" lengthAdjust="spacingAndGlyphs">2 STDEV Increase</text>
<text x="279.70" y="312.50" font-size="10.87" font-weight="bold" fill="#000" stroke="#000" stroke-width="0.35" textLength="6.62" lengthAdjust="spacingAndGlyphs">H</text>
<text x="298.60" y="312.60" font-size="10.58" font-weight="bold" fill="#000" stroke="#000" stroke-width="0.35" textLength="95.81" lengthAdjust="spacingAndGlyphs">150% AND 3 STDEV</text>
<text x="325.80" y="327.40" font-size="10.72" font-weight="bold" fill="#000" stroke="#000" stroke-width="0.35" textLength="40.18" lengthAdjust="spacingAndGlyphs">Increase</text>
<text x="412.80" y="312.30" font-size="11.45" font-weight="bold" fill="#000" stroke="#000" stroke-width="0.35" textLength="2.78" lengthAdjust="spacingAndGlyphs">I</text>
<text x="433.90" y="312.60" font-size="10.58" font-weight="bold" fill="#000" stroke="#000" stroke-width="0.35" textLength="97.31" lengthAdjust="spacingAndGlyphs">150% AND 2 STDEV</text>
<text x="462.00" y="327.40" font-size="10.72" font-weight="bold" fill="#000" stroke="#000" stroke-width="0.35" textLength="40.98" lengthAdjust="spacingAndGlyphs">Increase</text>
<text x="333.40" y="81.80" font-size="12.25" font-weight="bold" fill="#fff" stroke="#fff" stroke-width="0.35" textLength="19.88" lengthAdjust="spacingAndGlyphs">735</text>
<text x="332.00" y="98.10" font-size="11.9" font-weight="bold" fill="#fff" stroke="#fff" stroke-width="0.35" textLength="22.72" lengthAdjust="spacingAndGlyphs">52%</text>
<text x="291.10" y="110.70" font-size="11.97" font-weight="bold" fill="#000" stroke="#000" stroke-width="0.35" textLength="17.48" lengthAdjust="spacingAndGlyphs">685</text>
<text x="378.40" y="110.70" font-size="11.97" font-weight="bold" fill="#000" stroke="#000" stroke-width="0.35" textLength="17.88" lengthAdjust="spacingAndGlyphs">776</text>
<text x="479.10" y="41.50" font-size="11.69" font-weight="bold" fill="#000" stroke="#000" stroke-width="0.35" textLength="17.38" lengthAdjust="spacingAndGlyphs">133</text>
<text x="462.10" y="97.80" font-size="12.39" font-weight="bold" fill="#fff" stroke="#fff" stroke-width="0.35" textLength="13.03" lengthAdjust="spacingAndGlyphs">69</text>
<text x="456.70" y="114.30" font-size="11.83" font-weight="bold" fill="#fff" stroke="#fff" stroke-width="0.35" textLength="23.32" lengthAdjust="spacingAndGlyphs">48%</text>
<text x="431.00" y="126.90" font-size="10.85" font-weight="bold" fill="#000" stroke="#000" stroke-width="0.35" textLength="11.72" lengthAdjust="spacingAndGlyphs">48</text>
<text x="486.80" y="141.50" font-size="10.99" font-weight="bold" fill="#1f3060" stroke="#1f3060" stroke-width="0.35" textLength="11.72" lengthAdjust="spacingAndGlyphs">15</text>
<text x="344.60" y="185.30" font-size="11.13" font-weight="bold" fill="#000" stroke="#000" stroke-width="0.35" textLength="17.38" lengthAdjust="spacingAndGlyphs">535</text>
<text x="327.70" y="241.40" font-size="12.68" font-weight="bold" fill="#fff" stroke="#fff" stroke-width="0.35" textLength="20.78" lengthAdjust="spacingAndGlyphs">330</text>
<text x="326.30" y="257.60" font-size="11.83" font-weight="bold" fill="#fff" stroke="#fff" stroke-width="0.35" textLength="23.12" lengthAdjust="spacingAndGlyphs">47%</text>
<text x="289.60" y="270.30" font-size="11.13" font-weight="bold" fill="#000" stroke="#000" stroke-width="0.35" textLength="17.08" lengthAdjust="spacingAndGlyphs">245</text>
<text x="359.20" y="285.70" font-size="11.13" font-weight="bold" fill="#000" stroke="#000" stroke-width="0.35" textLength="12.02" lengthAdjust="spacingAndGlyphs">45</text>
<text x="486.60" y="190.30" font-size="11.97" font-weight="bold" fill="#000" stroke="#000" stroke-width="0.35" textLength="23.79" lengthAdjust="spacingAndGlyphs">1179</text>
<text x="469.70" y="244.10" font-size="12.54" font-weight="bold" fill="#fff" stroke="#fff" stroke-width="0.35" textLength="20.48" lengthAdjust="spacingAndGlyphs">771</text>
<text x="466.90" y="260.40" font-size="12.68" font-weight="bold" fill="#fff" stroke="#fff" stroke-width="0.35" textLength="24.42" lengthAdjust="spacingAndGlyphs">55%</text>
<text x="432.40" y="279.50" font-size="11.83" font-weight="bold" fill="#000" stroke="#000" stroke-width="0.35" textLength="18.48" lengthAdjust="spacingAndGlyphs">425</text>
<text x="498.60" y="288.50" font-size="11.83" font-weight="bold" fill="#000" stroke="#000" stroke-width="0.35" textLength="11.82" lengthAdjust="spacingAndGlyphs">63</text>
<text x="95.60" y="348.00" font-size="10.7" font-weight="bold" fill="#000" stroke="#000" stroke-width="0.35" textLength="16.88" lengthAdjust="spacingAndGlyphs">750</text>
<text x="75.10" y="389.00" font-size="12.11" font-weight="bold" fill="#fff" stroke="#fff" stroke-width="0.35" textLength="19.48" lengthAdjust="spacingAndGlyphs">652</text>
<text x="74.00" y="405.20" font-size="12.11" font-weight="bold" fill="#fff" stroke="#fff" stroke-width="0.35" textLength="22.32" lengthAdjust="spacingAndGlyphs">57%</text>
<text x="104.30" y="422.50" font-size="10.0" font-weight="bold" fill="#000" stroke="#000" stroke-width="0.35" textLength="10.82" lengthAdjust="spacingAndGlyphs">95</text>
<text x="21.00" y="428.50" font-size="10.7" font-weight="bold" fill="#000" stroke="#000" stroke-width="0.35" textLength="23.25" lengthAdjust="spacingAndGlyphs">1812</text>
<text x="231.00" y="354.70" font-size="11.55" font-weight="bold" fill="#000" stroke="#000" stroke-width="0.35" textLength="23.25" lengthAdjust="spacingAndGlyphs">1066</text>
<text x="207.90" y="397.30" font-size="12.25" font-weight="bold" fill="#fff" stroke="#fff" stroke-width="0.35" textLength="26.39" lengthAdjust="spacingAndGlyphs">1145</text>
<text x="209.40" y="413.50" font-size="12.25" font-weight="bold" fill="#fff" stroke="#fff" stroke-width="0.35" textLength="23.42" lengthAdjust="spacingAndGlyphs">63%</text>
<text x="154.80" y="431.90" font-size="11.27" font-weight="bold" fill="#000" stroke="#000" stroke-width="0.35" textLength="23.35" lengthAdjust="spacingAndGlyphs">2039</text>
<text x="237.50" y="431.90" font-size="11.27" font-weight="bold" fill="#000" stroke="#000" stroke-width="0.35" textLength="17.33" lengthAdjust="spacingAndGlyphs">117</text>
<text x="361.50" y="357.10" font-size="10.7" font-weight="bold" fill="#000" stroke="#000" stroke-width="0.35" textLength="17.28" lengthAdjust="spacingAndGlyphs">659</text>
<text x="334.90" y="402.20" font-size="12.39" font-weight="bold" fill="#fff" stroke="#fff" stroke-width="0.35" textLength="20.18" lengthAdjust="spacingAndGlyphs">487</text>
<text x="333.70" y="418.40" font-size="12.68" font-weight="bold" fill="#fff" stroke="#fff" stroke-width="0.35" textLength="22.62" lengthAdjust="spacingAndGlyphs">54%</text>
<text x="294.50" y="442.60" font-size="10.7" font-weight="bold" fill="#000" stroke="#000" stroke-width="0.35" textLength="17.78" lengthAdjust="spacingAndGlyphs">606</text>
<text x="358.60" y="444.50" font-size="10.7" font-weight="bold" fill="#000" stroke="#000" stroke-width="0.35" textLength="11.42" lengthAdjust="spacingAndGlyphs">57</text>
<text x="507.40" y="365.20" font-size="10.99" font-weight="bold" fill="#000" stroke="#000" stroke-width="0.35" textLength="17.08" lengthAdjust="spacingAndGlyphs">885</text>
<text x="466.80" y="408.70" font-size="12.82" font-weight="bold" fill="#fff" stroke="#fff" stroke-width="0.35" textLength="19.68" lengthAdjust="spacingAndGlyphs">645</text>
<text x="465.10" y="425.80" font-size="13.38" font-weight="bold" fill="#fff" stroke="#fff" stroke-width="0.35" textLength="23.32" lengthAdjust="spacingAndGlyphs">55%</text>
<text x="426.70" y="440.70" font-size="10.99" font-weight="bold" fill="#000" stroke="#000" stroke-width="0.35" textLength="17.48" lengthAdjust="spacingAndGlyphs">545</text>
<text x="490.60" y="451.40" font-size="10.99" font-weight="bold" fill="#000" stroke="#000" stroke-width="0.35" textLength="11.42" lengthAdjust="spacingAndGlyphs">56</text>
</svg>
</body></html>
